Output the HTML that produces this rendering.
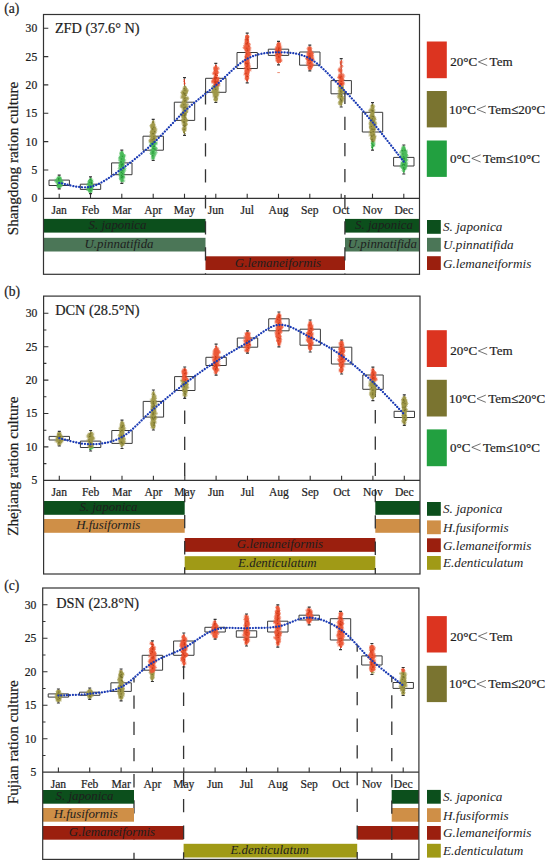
<!DOCTYPE html>
<html><head><meta charset="utf-8"><style>
html,body{margin:0;padding:0;background:#fff;}
svg{display:block;}
text{font-family:"Liberation Serif",serif;fill:#1e1e1e;stroke:#1e1e1e;stroke-width:0.22px;}
text[font-style="italic"]{stroke:none;}
</style></head><body>
<svg width="550" height="866" viewBox="0 0 550 866">
<defs>
<marker id="mr" markerUnits="userSpaceOnUse" markerWidth="6" markerHeight="6" refX="3" refY="3" overflow="visible"><path d="M1 3H5M3 1V5M1.6 1.6L4.4 4.4M1.6 4.4L4.4 1.6" stroke="#ec5a3a" stroke-width="0.7" opacity="0.8"/></marker>
<marker id="mo" markerUnits="userSpaceOnUse" markerWidth="6" markerHeight="6" refX="3" refY="3" overflow="visible"><path d="M1 3H5M3 1V5M1.6 1.6L4.4 4.4M1.6 4.4L4.4 1.6" stroke="#a09a4a" stroke-width="0.7" opacity="0.8"/></marker>
<marker id="mg" markerUnits="userSpaceOnUse" markerWidth="6" markerHeight="6" refX="3" refY="3" overflow="visible"><path d="M1 3H5M3 1V5M1.6 1.6L4.4 4.4M1.6 4.4L4.4 1.6" stroke="#4cbc5c" stroke-width="0.7" opacity="0.8"/></marker>
</defs>
<rect width="550" height="866" fill="#fff"/>
<text x="4.2" y="13.4" font-size="13.6">(a)</text>
<rect x="43.5" y="218.9" width="162" height="13.7" fill="#0c4f1c"/>
<text x="117.5" y="229.3" font-size="12.9" font-style="italic" text-anchor="middle" fill="#262626">S. japonica</text>
<rect x="345.0" y="218.9" width="74.5" height="13.7" fill="#0c4f1c"/>
<text x="384.0" y="229.3" font-size="12.9" font-style="italic" text-anchor="middle" fill="#262626">S. japonica</text>
<rect x="43.5" y="237.8" width="162" height="13.7" fill="#4b7657"/>
<text x="119.0" y="248.2" font-size="12.9" font-style="italic" text-anchor="middle" fill="#262626">U.pinnatifida</text>
<rect x="345.0" y="237.8" width="74.5" height="13.7" fill="#4b7657"/>
<text x="382.4" y="248.2" font-size="12.9" font-style="italic" text-anchor="middle" fill="#262626">U.pinnatifida</text>
<rect x="205.5" y="256.3" width="139.5" height="13.7" fill="#9b1f0e"/>
<text x="278.0" y="266.7" font-size="12.9" font-style="italic" text-anchor="middle" fill="#262626">G.lemaneiformis</text>
<line x1="205.5" y1="78.5" x2="205.5" y2="274.3" stroke="#333" stroke-width="1.3" stroke-dasharray="13.3 12.7" stroke-dashoffset="13.3"/>
<line x1="344.9" y1="90.0" x2="344.9" y2="274.3" stroke="#333" stroke-width="1.3" stroke-dasharray="13.3 12.8" stroke-dashoffset="25.4"/>
<path d="M49 180.1h20.4V185.5h-20.4ZM80.3 184.2h20.4V189.4h-20.4ZM111.6 162.9h20.4V174.7h-20.4ZM143 136.2h20.4V150.2h-20.4ZM174.3 102.2h20.4V120.4h-20.4ZM205.6 78.3h20.4V92.3h-20.4ZM237 52.5h20.4V68.5h-20.4ZM268.3 49.2h20.4V55.4h-20.4ZM299.6 52h20.4V65.2h-20.4ZM331 80.6h20.4V93.8h-20.4ZM362.3 112.3h20.4V132h-20.4ZM393.6 157.4h20.4V166h-20.4Z" fill="none" stroke="#3a3a3a" stroke-width="1"/>
<path d="M59.2 175.2V188.8M90.5 176.8V193.7M121.8 150.1V183.4M153.2 119.4V160.5M184.5 77.6V135.3M215.8 63.4V102.5M247.2 33.2V82.8M278.5 41.4V64.8M309.8 45.2V70.8M341.2 58.6V107M372.5 102.7V150.2M403.8 145V174" stroke="#333" stroke-width="0.7" fill="none"/>
<path d="M58.2 177.2h2.2M57.6 178.2h3.1M57.9 179.2h2.7M58 180.2h2.3M58 181.2h3.1M57.8 182.2h2.2M58.5 183.2h2.2M57.1 184.2h3M58.1 185.2h3.3M58 186.2h2.6M57.7 187.2h1.7M89.7 178.8h2.1M89.3 179.8h2.8M88.9 180.8h3.2M88.3 181.8h3.3M89.4 182.8h2.3M89.5 183.8h2.5M89 184.8h3.1M88.9 185.8h3.4M89.1 186.8h2.5M89.3 187.8h3.3M89.8 188.8h2.2M88.9 189.8h3.2M88.9 190.8h2.4M89.5 191.8h2.1M121 152.1h2.1M120.9 153.1h1.9M120.9 154.1h2.3M120.4 155.1h2.7M120.7 156.1h2.8M120.7 157.1h2.9M120.8 158.1h3M120.4 159.1h3.3M120.7 160.1h2.7M120.1 161.1h3.2M120.1 162.1h2.7M120.8 163.1h3.2M120.1 164.1h2.6M120.6 165.1h2.4M121.1 166.1h2.5M120.5 167.1h2.1M120.9 168.1h2.2M119.8 169.1h3.3M120.7 170.1h2.1M120.9 171.1h2.9M120.3 172.1h2M120.4 173.1h2.2M121 174.1h2.3M120.2 175.1h2.7M120.5 176.1h2.1M121.2 177.1h2M120.9 178.1h2.1M120.6 179.1h2.5M121.4 180.1h1.8M120.6 181.1h2.1M151.9 142.4h2.8M151.9 143.4h2.9M152.1 144.4h2.9M151.2 145.4h3.5M152.4 146.4h2.5M152.2 147.4h2.4M151.9 148.4h3M151.9 149.4h3.3M152.3 150.4h2.1M152 151.4h2.5M151.8 152.4h2.3M151.9 153.4h2.6M151.9 154.4h1.9M151.8 155.4h1.9M151.7 156.4h2M151.9 157.4h1.5M152.7 158.4h1.4M371.4 141.7h1.7M371.4 142.7h2.2M370.9 143.7h2.3M372.2 144.7h1.6M371.8 145.7h1.9M371.5 146.7h2.2M371.2 147.7h1.8M371.9 148.7h1.3M402.8 147h1.7M402.9 148h2.3M403 149h2.7M403.1 150h2.5M402.2 151h2.6M402.3 152h2.6M402.6 153h3.2M403 154h2.1M402.7 155h3M402.8 156h2.2M402.6 157h2.2M402.3 158h2.6M402.5 159h2.7M402.8 160h2.2M403 161h2.2M402.8 162h2.1M403.2 163h2M402.4 164h3.4M402.5 165h2.6M401.8 166h3M402.6 167h2.3M402.8 168h2M402.3 169h2.1M402.6 170h2.3M403.1 171h1.6M403.1 172h1.6" stroke="#2fae3f" stroke-width="1.15" fill="none"/>
<path d="M152.3 121.4h1.7M152 122.4h1.7M152.2 123.4h1.5M152 124.4h2.5M152.4 125.4h2M152.2 126.4h1.9M152.4 127.4h2.6M152.1 128.4h2.3M151.9 129.4h3.2M151.9 130.4h2.8M151.8 131.4h2.5M152.4 132.4h2.4M151.4 133.4h3.3M150.9 134.4h3.4M152.1 135.4h2.2M151.7 136.4h2.5M150.9 137.4h3.6M151.7 138.4h2.4M151.3 139.4h3.2M152.2 140.4h2.1M151.5 141.4h2.7M184.3 85.6h0.9M184.3 86.6h1.5M184.2 87.6h1.5M183.6 88.6h2.9M183.6 89.6h1.8M183.4 90.6h2.6M183.3 91.6h2.7M182.4 92.6h3.2M183.7 93.6h2.7M183 94.6h2M183.4 95.6h3.3M182.9 96.6h2M183.1 97.6h3.3M183.2 98.6h2.8M183.3 99.6h3.2M183 100.6h2M183.4 101.6h3.3M182.7 102.6h3.4M183 103.6h2.6M183.8 104.6h2.1M183.4 105.6h2.5M182.9 106.6h2.9M182.9 107.6h3.1M183.7 108.6h2.4M182.9 109.6h2.3M183.3 110.6h2.4M182.7 111.6h3.3M183.5 112.6h2.4M183.3 113.6h2.4M183.8 114.6h2.4M183 115.6h2.3M183.1 116.6h2.4M183.2 117.6h3M183 118.6h3.1M183.8 119.6h2M183.1 120.6h2.2M183.9 121.6h2.4M183.2 122.6h2.3M183.6 123.6h3M182.9 124.6h2.2M183.5 125.6h2.7M183.8 126.6h2.1M183.2 127.6h2M183.7 128.6h2.2M183.9 129.6h2M183.8 130.6h1.5M183.1 131.6h1.7M183.1 132.6h1.9M184.3 133.6h1.3M214.5 85.4h3.1M214.6 86.4h2.5M214.2 87.4h2.2M214.4 88.4h2.6M214.3 89.4h2M215.1 90.4h2.6M213.7 91.4h3.1M214.5 92.4h2.3M214.3 93.4h2.3M215 94.4h2.6M214.3 95.4h2.2M214.3 96.4h1.8M214.3 97.4h2.4M215.1 98.4h2.2M214.7 99.4h1.5M215.4 100.4h1.5M339 85.6h3.3M340 86.6h3.1M339.1 87.6h3M340.5 88.6h2.1M339.2 89.6h3.3M339.8 90.6h3.4M340.6 91.6h2.1M340 92.6h2M339.7 93.6h2.2M339.3 94.6h2.6M339.2 95.6h3.2M339.6 96.6h2.7M339.8 97.6h2.9M340.3 98.6h2.3M339.9 99.6h2.3M340.6 100.6h1.8M340 101.6h2.2M339.9 102.6h2.4M339.8 103.6h2M340.6 104.6h1.5M371.7 104.7h1.3M370.9 105.7h2.1M371.7 106.7h1.6M371.6 107.7h2.2M371.6 108.7h2.3M370.9 109.7h2.3M371.1 110.7h2.4M371.6 111.7h1.8M370.9 112.7h3.1M371.2 113.7h2.9M371.6 114.7h1.9M371 115.7h3.3M371.8 116.7h2.4M371.5 117.7h3M371 118.7h3.3M371.2 119.7h2.7M371.7 120.7h2.5M372 121.7h2.2M371.1 122.7h2.6M370.8 123.7h3M370.5 124.7h3M370.3 125.7h3.5M371.2 126.7h3.5M371.1 127.7h3.3M371.4 128.7h2.3M371.7 129.7h2.1M370.5 130.7h3.3M370.7 131.7h2.7M371.2 132.7h3M371.6 133.7h2.1M370.5 134.7h3.3M370.6 135.7h3.3M371 136.7h1.9M370.6 137.7h3M370.9 138.7h3M371.9 139.7h1.9M371 140.7h2.2" stroke="#8a8434" stroke-width="1.15" fill="none"/>
<path d="M183.6 79.6h1.1M183.7 80.6h1.3M183.5 81.6h1.1M184 82.6h1.1M183.8 83.6h1.6M183.9 84.6h0.7M215.1 65.4h1.6M215 66.4h1.6M215.2 67.4h1.8M214.5 68.4h1.7M214.9 69.4h1.9M214 70.4h2.5M214.7 71.4h3.1M214.2 72.4h2.4M214.9 73.4h3M215.1 74.4h2.2M214.8 75.4h3.2M214.2 76.4h2.3M214.4 77.4h2.3M214.6 78.4h3.4M214 79.4h2.8M214.2 80.4h2.6M214.6 81.4h3.1M214.1 82.4h3.3M214.4 83.4h2.8M214.5 84.4h2.6M246.5 35.2h1.3M245.6 36.2h2M245.8 37.2h1.6M246.2 38.2h1.6M246.7 39.2h2.1M246.4 40.2h2.4M246.5 41.2h2.4M245.6 42.2h2.6M246 43.2h2.3M246.7 44.2h2M245.5 45.2h2.5M246.2 46.2h2.6M246.1 47.2h2.3M245.8 48.2h2.1M246.1 49.2h2.2M245.3 50.2h3M245.7 51.2h3.1M246.2 52.2h3.2M246.5 53.2h2.6M245.8 54.2h2.8M245.5 55.2h2.3M245.1 56.2h3.1M245.6 57.2h2.1M245.3 58.2h2.9M246.2 59.2h2.5M245.4 60.2h2.8M246.2 61.2h3.1M245.6 62.2h3M246 63.2h2.9M245.8 64.2h3.3M246.3 65.2h2.4M245.7 66.2h2.1M245.4 67.2h2.7M245.5 68.2h2.8M245.5 69.2h3.3M246.2 70.2h3M246.3 71.2h2.5M245.8 72.2h2.5M246.4 73.2h1.9M246 74.2h2.9M246.2 75.2h2M246 76.2h2M245.4 77.2h2.3M246.2 78.2h1.9M246.7 79.2h1.5M246.3 80.2h1.5M246.6 81.2h1.3M277.2 43.4h2.2M277.6 44.4h1.7M276.8 45.4h2.4M277.4 46.4h2.3M276.9 47.4h2.9M276.5 48.4h3.4M276.4 49.4h3.1M276.8 50.4h3.5M277.7 51.4h2.3M276.3 52.4h3.5M277.3 53.4h3.5M277.5 54.4h2.6M277 55.4h3.2M277 56.4h2.6M277.2 57.4h3.2M276.3 58.4h3.3M277.4 59.4h2.6M276.9 60.4h2M277.5 61.4h2.7M277.2 62.4h2.2M308.8 47.2h1.7M308.6 48.2h2.1M308.8 49.2h2M308.3 50.2h2.4M308.6 51.2h2.6M308.8 52.2h2.7M308.2 53.2h2.6M307.7 54.2h3.4M308.5 55.2h2.5M308.1 56.2h2.7M307.9 57.2h3.4M308.5 58.2h2.9M308.6 59.2h2.3M308.8 60.2h2.2M308.7 61.2h3.2M307.7 62.2h3.4M308.7 63.2h2.6M309.2 64.2h2.4M309 65.2h2.5M308.8 66.2h1.8M309 67.2h2.4M309.3 68.2h2M308.8 69.2h1.9M341 60.6h0.8M340.5 61.6h0.8M340.1 62.6h1.4M340.2 63.6h1M340.2 64.6h1.2M341.3 65.6h1M340.6 66.6h1M340.6 67.6h0.6M341 68.6h0.7M340.4 69.6h0.8M341.1 70.6h0.7M340.3 71.6h1.3M340.4 72.6h0.9M340.7 73.6h1.1M340.4 74.6h0.7M340.3 75.6h1.2M339.3 76.6h3M339.6 77.6h2.2M339.5 78.6h3.4M340 79.6h2.1M339.3 80.6h3.1M338.9 81.6h3.4M339.8 82.6h2.9M340.6 83.6h2.4M339.3 84.6h2.9" stroke="#e23b1f" stroke-width="1.15" fill="none"/>
<path d="M60.4 184.5 59.4 181.4 62 182.3 59.1 185.5 59.8 178.9 58.1 181.7 59.8 178.7 61.2 182.2 59.5 181.2 60.4 180.5 59.2 184.4 60.9 180.6 59 181.3 56.4 180.2 59.1 178.9 61.2 185 58.6 178.2 58.8 177.6 57.7 179.1 60 186.7 58.3 186.6 59.4 184.8 60 182 56.4 181.5 60.9 182.3 60.1 181.9 60.5 185.2 59.5 180.4 59.4 184.2 59.9 182.9 59.8 178.2 58.5 185.2 59 183.3 59.9 183.9 60.5 184.1 59 184.7 57.9 180.8 57.8 183.1 59.1 186.6 91.1 183.7 91.4 187.8 91.4 188.6 90 185.2 89.5 188.6 89.1 183.3 90.2 183.8 91.4 181.3 89.3 189 90.5 185 90.8 190.9 88.5 187 90.5 185.1 90.8 179.9 90.3 180.5 90.3 183.5 90.4 189.8 90.3 189.9 90.5 186 90.4 188.4 88.2 184.4 89.9 191.1 89.3 181.4 92.4 186.5 90.5 186.1 90.1 189.1 90.9 182.4 90.9 190.8 91.5 181.1 89.6 186.8 89.1 187 89.4 189.4 91.1 183.3 90.6 185 90.9 186.1 90.8 184.1 89.5 190.5 89.9 189.1 89.1 188.4 90.1 182 90.4 180.5 90.4 187.1 88.3 188.9 90.4 188.2 88.1 189.2 90.6 184 122.6 168.1 121.4 155 123.4 180.8 122.2 159.8 122.4 160.3 124.3 170.4 121.8 180.1 122.3 159.9 121.6 175.3 120.1 174.8 122.2 174.2 122.9 158.6 121.9 170 121.4 152.7 123 164.6 123.1 157.5 121.2 167.9 122.2 170.8 122.4 164.5 121.7 174.6 121.9 161.4 122.4 154.5 122.5 159.5 123.1 161.4 123.1 176.8 120.7 178.3 120.9 166 120.2 166.2 121.5 157.5 121.5 179.2 124.3 160.2 121.4 153.5 120 171.4 121 157.5 121.7 164.5 121.9 163.5 119.9 158.8 120.2 163.5 121.6 169.2 121.8 166.6 121 176.8 121.2 178.2 121.7 154.8 122.2 171.8 123.4 177.2 121.6 162.5 122.3 162.8 124.2 155.9 120.4 170.6 122.3 157.4 123.1 156.5 122 172 122.7 177 123.1 172.7 120.6 165.4 121.5 157.5 121.8 174 122.8 159.9 124.5 168.4 120.6 165.6 123.2 173 119.7 168.5 122.4 177.2 120.2 160.6 120.8 175.1 121.7 153.9 123.4 155.4 120.8 173.4 120.8 173.2 123 167.2 120.3 157.2 122.8 167.5 122.1 166.1 121.9 153.1 122.8 168.6 121.6 177.6 121.5 165.6 153.3 156.2 153.1 143.6 154.4 149.9 153.8 142 153.4 156.7 155.6 148.3 152.9 146.2 152.4 143.3 151.7 151.6 153.8 142.2 155.7 148.7 152 153.1 153.6 149.5 154.2 153.1 151.4 144.8 153.1 150.6 154 144.3 151.5 153.5 152.7 158.1 151.6 144.6 156 143 154.7 154.7 152.2 145.9 155.4 143.9 150.9 142.8 152.1 149.5 153.3 153.8 153.2 158.1 153.1 145.9 154.5 147.2 155.7 152.4 152.2 141.8 152.4 154 372.6 145.4 373.7 144.8 373 145.2 372.7 141.8 373.6 142.8 403.7 159.1 403.8 150.5 402.5 163 402.2 163.2 404.7 160 403.6 164.6 404.3 151.6 403.5 157.3 405.4 153.2 403.3 158 404.3 164.2 404.4 167.6 404.1 157 401.8 165.4 403.6 163.7 403.1 165.3 404.8 158.9 405.5 156.2 403.3 157.1 405.7 151 403.1 153.2 405.3 156.3 405.3 160.8 404.2 162.8 404.2 167 404.4 153.3 405.3 168 405.2 157.8 403 157.3 403.6 156.4 406.6 155.4 401.3 156.3 405.4 165.4 404.8 158 403.5 147.7 405.7 155.7 405.9 152 404.9 168 405.5 166.4 403.7 162.8 403.5 170.6 402.4 158.5 404.3 156.6 406.2 163.3 404 152.2 403.3 149.2 401 152.3 405.4 164.9 402.2 154.4 406.6 159.9 401.5 166.9 405.5 154.6 402.9 157.5 403.9 163.7 405.5 163.1 404.1 167.2 403.5 147.1 403.9 153.9 403.3 167.6 402.4 150.8 404.5 154.1 403.3 149.8 403.3 167.7 402.7 150.1 403.4 148.6 405.5 165.5 403.7 162.9 405 153.6 405.6 159.8" fill="none" stroke="none" marker-start="url(#mg)" marker-mid="url(#mg)" marker-end="url(#mg)"/>
<path d="M153.5 124.6 153.5 136.3 151.9 140 152.2 127.1 152.6 135.3 153.2 126.2 153.4 137 154.7 128.1 153.8 133.1 152.9 128.9 154.5 137.7 153.1 130.8 153.4 138.3 153.6 135.6 153.3 127 153.6 131.8 152.5 124.2 151.6 125.7 153.7 125.2 153.1 132.3 153.7 128.6 152 133 153.9 136.4 151.1 139.7 152.4 140.7 153.9 140.9 152.9 132.7 155.6 129.9 153.4 122.2 153.7 134 154.6 132.4 151.8 132.9 151.6 132.5 152.2 127.3 155 131.8 152.1 131 152.6 138.2 155.7 137.8 150.4 140.7 154.2 130.4 154.3 139.7 152.7 129.3 152.3 140.1 153.8 127.6 153.1 128.1 151.6 137.1 152.8 132.2 153.3 128.5 151.4 126 151.6 134.5 151.2 136.3 151.7 131.6 153.2 125.4 153.8 136.9 152.6 133.7 154.7 128.2 150.4 141.1 151.8 141.1 153.6 140.1 184.3 116.8 184.1 94.6 187 90.4 182.9 116.9 184.2 125.2 183.5 114.4 184.1 119.6 184.9 124.5 183.2 120.8 182.9 96.9 186.7 108 186.2 111.1 182.3 105.9 184.4 111.1 185.1 111.6 183.9 103.5 184.6 100.9 184.7 119.1 187 104.3 185.7 112.5 181.7 105.7 184.7 99.8 184.4 94.9 184.2 121.2 184 92.5 184.8 114.2 182.5 120.4 183.3 113 181.7 106.3 183.7 129 184.2 104.1 184.6 104.1 185.8 93.8 183.6 110.4 184.4 99.4 184.1 104.4 183.1 104.8 183.4 94.3 183.6 128.8 185.3 121 183.4 117.1 183.5 91.9 184.9 111.4 182.1 92.7 184.8 88 184 93.7 181.7 114.8 183.5 94.1 186.3 106.2 184 114.3 183.2 123.1 183.7 97.2 184.5 104.9 186 92.5 184.4 92.3 185.8 107.3 184.7 119.2 184.4 114.2 183.9 129.3 184.8 119.9 185.6 88.6 184 120.9 184.1 91.2 185 118.4 187.1 98.2 184.1 119.1 186.2 111.3 185.4 108.4 183.3 102.1 183.1 117 184.5 95.6 185.8 124.5 182.6 103.6 184.7 87.7 184.1 94.9 187.3 98.4 186.2 120.5 181.8 114.2 185.1 115.1 184.6 112 184.8 128.9 184.8 90 184.6 101 185.8 90.2 185 112.2 184.3 101.4 184.1 101 182.9 107.8 185.9 106.5 184.1 129.8 185.2 91.6 184.4 124.8 184 96 185.1 100.6 186 91.6 184.2 91.4 184.6 114.8 184.8 106.9 184.3 89.8 185.5 124.7 182.9 92.2 185.8 123.2 185.9 91.4 185.5 112.5 184.4 114.8 186.4 100.1 184.4 93.6 183.8 121.1 186.3 120.1 184.9 130 186.5 110.8 185.1 127.1 184.7 99 184.1 107.1 181.9 97.1 183.2 106.1 213.7 90.2 216.2 86.3 213.5 86.6 216.7 87.4 215.7 95.2 216.5 85.6 217.2 88.3 215.3 99.2 215.7 98.2 215.8 94 215.4 94.4 215 92.9 216.8 86.8 215.1 95 214.4 94.1 214 89.6 216.1 100.1 213.4 92.1 215.4 99.4 215.7 90.9 215.5 99.1 216.9 88.8 217.5 94.8 218.5 85.2 215.7 91.9 216.3 98.6 216.5 94.8 216.2 92.9 216.7 96.1 216 99.8 214.9 91 215.9 95.4 215.5 91.2 213 91.7 214.4 87 214.1 96 216.3 94 218 92.6 217.3 90.7 216.3 88.9 213.8 89.7 213.9 87 214.7 90.3 339.7 95.2 340.3 86.8 340.5 90.7 341.7 100.4 341.3 90.5 342.5 99.1 339.6 103 340.6 104.2 341.9 87.5 341.3 86.2 341.2 89.5 341.8 89.1 341.9 89.4 340.6 93.2 339.4 91 342.2 98.1 340.6 90.7 341.5 88.3 341.4 96.5 341.6 88.9 341.1 88.4 338.7 96.3 339.5 87.3 342.6 97.5 339.9 102.8 339.4 97.9 340.8 96 339.6 93 341.4 101.9 342.1 100.2 342.1 88 341.3 87 339.9 87.8 341.8 88.5 342.3 91.7 343.2 91.4 340.9 100.8 342 91.8 341.3 87.4 340.3 95.8 340.5 101.3 341.9 90 342 85.2 374 124.1 374.7 122.9 373.7 117.6 372.7 111.2 373.4 106.3 370.2 123.2 372.7 112.9 373.5 118.1 373 139.5 374 135 374.8 125.4 374.4 128.6 372.1 127.2 373.2 132.5 373.2 120.3 373.5 140.1 371 127.5 372.7 140.9 373.5 125.6 372.3 129 373.9 137.9 373.4 119.4 373.6 140.1 372.6 112.9 371.9 115.5 375.3 123.4 372.8 107.1 370.9 118.6 373.3 135.9 372.9 132.7 373.3 123.1 370.9 116.9 371.4 120.8 371.8 138.5 370.5 132.3 371.4 122.5 372.2 110.4 372.2 130.1 372 114.6 370.9 110.2 371.7 121.3 373.6 120.2 373.3 129.4 372.1 114.1 373.6 129.9 373.2 116.5 372.1 131.9 373.1 122 373.4 132.8 371.6 130.7 371.8 138.3 372.3 120.2 373.3 123.9 371.9 122.4 371.8 133.1 370.9 126.3 373.6 118.5 374.4 129.8 372.1 123.9 372.7 134.9 372.7 137.5 372.3 113.1 371.8 132.1 372.6 133.5 373 136.9 371 124.4 370.2 110.6 372.1 119.3 371.1 128 373.6 110.1 373.6 118.4 373.3 126.4 371.7 109.9 374.9 119.3 371.5 121.2 372.3 123.2 372.4 105.8 370.8 115.9 372.7 114.9 372.3 133.3 372.6 132.9 373 127.3 374.2 122.9 371.5 129.3 370.7 127.2 371.4 118.4 371 124.9 371.9 120.5 370.4 135.1 373.4 128.9 374.8 136.8 371.7 116.5 373.7 118.1 373.1 129.5 371.8 107.2 371.6 118.6 373.9 136.7 371.7 127 374.1 138.2" fill="none" stroke="none" marker-start="url(#mo)" marker-mid="url(#mo)" marker-end="url(#mo)"/>
<path d="M213.8 79.3 215.1 67.8 215.2 68.7 215.6 68.2 217.7 78.8 215.6 73.8 213.9 80 214.6 80.7 216 83.6 215.7 81.3 215.2 77.3 217 79.9 213.8 73.3 217.8 68.3 216.5 72.2 215.3 71.9 217.8 83.8 214.8 83.8 217.5 84.8 218.4 83.7 215.9 83.8 216 84.5 214.9 73 216.2 71.6 213 82 215.3 79.7 215.1 73.4 217.4 72.5 217.6 80.8 215.2 69.3 215.7 68 217.8 78.2 216.3 69.5 215.6 76.7 216 79.2 215.2 80.2 215.9 82.1 216.3 69.6 213 81.4 215.7 84.1 216.1 79.2 215.4 84.4 217.6 81.3 216.3 79.4 217 79.4 247.5 58.2 246.2 59.9 249.9 69.8 247.1 37.1 247.2 78.5 247.2 37.8 248.6 67.8 245.9 40.9 247.6 62.9 246.3 49.5 246.9 49.7 246.5 61.9 249.1 54 248.6 55.5 246.9 62.6 248.2 54.7 247.2 70.6 247.5 46.3 246.4 62.1 246.8 61 246 70.9 246.6 76.7 247.3 73.1 247.2 54.3 247.4 36.7 247.7 72.9 248.3 58.6 249.6 48 246.8 67.4 249 44.6 247.2 41.9 246.1 56.8 246.2 59.2 247 76.5 246 73.6 247.4 46.2 247.6 50.5 247.7 62.3 246.1 48.2 247 52.6 246.9 43.8 247.1 50.2 247.2 58.2 246.7 41.3 246.2 63.4 247.9 67.5 248.3 68.8 247 41.1 245.3 74.2 247.9 60.6 249.4 54.7 247.7 62.7 247.9 70.2 246.3 64.8 246.2 71.4 247.1 62.8 246.4 64.4 246.5 56.3 246.9 37.4 247.9 53.3 247.3 72.1 246.5 78.7 245.3 68.3 248.8 65.1 246.9 74.5 247 63.8 245.8 43.7 246.7 78.9 247.3 36.7 246.8 57.4 248 49.2 247.1 60.4 246.3 50.2 247.5 77.1 247.7 45.1 247.6 72.4 247.3 37.1 247 73.2 247 77.7 247.5 53.8 247.7 46.7 246.6 38.9 247.8 48.2 248.7 66.5 247.3 41.2 249.6 53.9 248 63.5 248.4 50.2 247.7 43.5 247.9 43.5 245.1 45.5 247.5 70.4 247.4 46 247 48.2 247.6 65.7 246.8 70.5 247.8 48.4 246.9 54.7 245.1 61.1 246.1 65.7 247.2 61.5 247.5 75.5 247.1 58.1 248.6 47.2 244.4 47.7 249.4 50.1 245.5 47.4 247.9 71.7 278.2 59.2 277.1 51.8 279.6 55.6 279.2 56.7 280.4 54.6 279.1 54.6 277.5 51.6 278.9 56.1 277 58.1 277.8 52 278.9 48.3 278.8 50.7 280.5 60.8 278 57.2 276.6 49 276.6 48 279.6 48.9 278.7 48.8 278.3 54.4 279.1 45.7 278.9 60.4 278.6 47.3 280.3 47.1 277.6 46.9 279.3 61.3 277 50 279 43.9 278.6 48.3 277.2 60.4 279.9 53.1 278.7 47.8 278.7 59.8 279.1 46.7 278.2 61.6 278.8 54.6 280.3 60.2 279.5 44.1 279.1 61.2 280 50.7 276.3 51.1 278 53.2 277.3 50.8 278.3 44.4 277.3 54.9 277.5 54 276.4 52.1 279.5 58.9 279.1 57.7 276.9 56.8 279.6 54.5 278.4 50.3 276.7 54.9 279.9 49.1 278.7 48.7 279.3 50.5 278.3 44.3 279.2 58.3 277 54.9 310.8 66.6 308 64.8 307.8 56.6 310.6 64.8 310.8 55.2 309.8 67.9 310.4 48.6 309.8 50.8 308.9 53.1 312.5 58.9 309.7 68.1 310.4 66.8 308.6 48.3 308.6 60 311.3 64.8 309.6 50.7 309.7 54.8 312.6 59.7 309.7 61.1 311.3 56.2 309.4 63.8 311.9 58.8 308.3 59.5 307.9 53.2 308.4 59.2 309.1 62.3 310.3 67.5 307.9 56.6 310.2 68.1 312.3 56.2 310.7 62.9 310.7 53.9 311.9 55.2 311.5 64.9 310 51.9 310.5 63.3 309.5 55.9 311.1 61.1 309.8 49.6 312.1 59.2 308.6 57.6 309.6 63.1 308.6 49 310 48.1 307.6 58.3 309.5 54 312.5 64.7 307 58.6 311.2 52 308.9 58.1 312.1 53.4 308.8 58.6 310.3 68 311.6 53.5 309.4 67.5 311.2 66.4 311.4 61.1 309.9 54.3 308.4 61 308.1 58 307.6 62.8 309.1 62.6 339.6 69.2 339.2 77.5 341.1 83.9 339.6 70.2 340.3 82.8 339.8 81 340.1 74.8 340 84.5 341.6 66.3 342.3 79.3 343.4 76.1 341.3 62.1 341.6 83.7 342.2 79.2 341.6 77.8 342.1 83.6 340.7 82.6 340.1 84.8 340.8 78 342.6 79.9 341.4 82.1 342.5 82.7 341.1 79.3 340.4 84.2 339.3 82.7 343.2 83.8 341.2 83.6 342.4 74.8 340.4 83.5 341 70.9 341.3 77.5 339.4 77.3 339.9 75.6 342.1 81 341.3 83.9 340.2 71" fill="none" stroke="none" marker-start="url(#mr)" marker-mid="url(#mr)" marker-end="url(#mr)"/>
<path d="M58.1 179.3h1.2M58.9 183.5h1.2M58.4 178.7h1.2M58.3 180.2h1.2M57.2 184.8h1.2M59.1 183.5h1.2M58.1 178.5h1.2M58.9 183.1h1.2M89.6 187.7h1.2M89.2 189h1.2M90.9 182.2h1.2M89.3 186h1.2M90.5 187.4h1.2M90.2 190.2h1.2M89.7 179.5h1.2M91 183.4h1.2M90.4 180.8h1.2M89.3 182.4h1.2M121.7 170.8h1.2M122.3 165h1.2M120.9 165h1.2M120.5 161.5h1.2M121.9 173.8h1.2M121 175.4h1.2M121 159h1.2M121.2 177.7h1.2M120.8 172.5h1.2M121.1 166.3h1.2M120.5 162.6h1.2M121.6 177.8h1.2M121.5 164.5h1.2M122.6 167.5h1.2M120.9 177h1.2M122.1 163.9h1.2M120.7 164.4h1.2M121.8 156.2h1.2M122 176.5h1.2M154.4 149.3h1.2M152.4 151.7h1.2M153.7 142.7h1.2M152.6 141.9h1.2M152.3 153.1h1.2M153.9 146.1h1.2M153.2 146.4h1.2M152.5 148.3h1.2M152 155.7h1.2M151.6 144h1.2M153.5 148.8h1.2M371.7 147.4h1.2M371.8 144.3h1.2M372.5 145.5h1.2M372.1 141.6h1.2M403.2 167.6h1.2M404.1 169.5h1.2M403.7 164.6h1.2M402.8 158.3h1.2M403 156.8h1.2M401.8 165.1h1.2M403.7 160.4h1.2M402.7 164.5h1.2M403.8 158.1h1.2M401.5 150.5h1.2M403.4 158.9h1.2M404.4 150.4h1.2M402 150.8h1.2M404.7 162.8h1.2M402.2 154h1.2M404 165.2h1.2M403.2 168.6h1.2" stroke="#1f8c30" stroke-width="1.1" fill="none" opacity="0.8"/>
<path d="M152.6 133.6h1.2M153.5 138.4h1.2M151.9 128.7h1.2M153.3 136.7h1.2M154 131.8h1.2M153.2 138.5h1.2M152.2 129.3h1.2M152.3 133.6h1.2M151.9 129.2h1.2M153.3 139.8h1.2M153.1 127.3h1.2M152.5 122.3h1.2M151.7 139.8h1.2M183.4 122.4h1.2M184.2 115.1h1.2M183.1 108.1h1.2M184.2 101.1h1.2M184.3 93.5h1.2M183.7 129.4h1.2M183.9 126.4h1.2M182.6 125.8h1.2M184.3 107.5h1.2M181.9 115.1h1.2M183.4 121.6h1.2M183.8 119.3h1.2M183 92.9h1.2M183.5 115.5h1.2M183.6 110.2h1.2M183.2 104.8h1.2M184.3 117.3h1.2M183.7 113.8h1.2M184.2 124h1.2M183.7 88.5h1.2M184.5 125.5h1.2M183.8 115.9h1.2M183.8 107.7h1.2M184.7 107.1h1.2M184.3 90.1h1.2M184.5 100.4h1.2M184.7 95.2h1.2M183.6 122.4h1.2M184.8 113.9h1.2M184.1 98.3h1.2M183.7 94.3h1.2M215.3 85.9h1.2M214.5 87.7h1.2M215.1 89.4h1.2M215.2 97h1.2M340.4 88.7h1.2M340.6 101.7h1.2M341.1 88.2h1.2M340.8 100.4h1.2M339.7 98.8h1.2M341.5 87.8h1.2M340 99.7h1.2M339.5 93.9h1.2M340.7 96.4h1.2M341.2 94.6h1.2M340.5 92.1h1.2M340.1 91.1h1.2M372.1 111.3h1.2M372.5 110.9h1.2M373.4 129.4h1.2M371.5 136h1.2M371.6 116.2h1.2M373.3 121h1.2M372 141.1h1.2M371.7 129.2h1.2M370.3 132.5h1.2M370.7 126.5h1.2M371.9 139.2h1.2M370.9 136.1h1.2M373.3 134.9h1.2M372.8 116.6h1.2M371.2 129h1.2M371.4 110.3h1.2M372.2 122h1.2M371.5 120.2h1.2M371.8 105.1h1.2M371.8 118.9h1.2M370.9 139.8h1.2M372.2 141h1.2M371.4 110.8h1.2M372.6 131.6h1.2" stroke="#6c6826" stroke-width="1.1" fill="none" opacity="0.8"/>
<path d="M214.2 82.1h1.2M214.8 77.4h1.2M214.9 83.9h1.2M214.3 77.7h1.2M216.5 81.6h1.2M214.6 81.4h1.2M214.6 82.3h1.2M214 78.8h1.2M214.8 79.9h1.2M214.4 81.6h1.2M215.2 82.4h1.2M214.8 75h1.2M215.4 78.4h1.2M216.4 81.8h1.2M214.9 74h1.2M214.2 84.8h1.2M215.8 77.6h1.2M215 74h1.2M214.6 79.9h1.2M245.2 39.2h1.2M246.5 76.4h1.2M247.6 69.8h1.2M246.6 63h1.2M246.4 66.2h1.2M245.4 73.4h1.2M246.8 76.4h1.2M246.3 66.6h1.2M246.9 40.1h1.2M246 63.6h1.2M246.5 80h1.2M246.7 44h1.2M245.2 57.2h1.2M245.7 43.8h1.2M244.9 63.1h1.2M247 65h1.2M245.8 63.5h1.2M246.3 48.2h1.2M247 68.9h1.2M246.9 42.7h1.2M246.9 42.3h1.2M246.8 40.2h1.2M246.1 53.9h1.2M245.4 43.9h1.2M248.2 46h1.2M247.4 37.3h1.2M246.9 50.1h1.2M247.4 63.7h1.2M246.7 38.9h1.2M276.6 52.2h1.2M277.9 49.8h1.2M278.2 48.9h1.2M278.5 48.8h1.2M276.7 51.1h1.2M278.4 57.3h1.2M278.3 47.8h1.2M279 53.4h1.2M276.6 54.4h1.2M278.1 56.4h1.2M278.3 50.5h1.2M278.4 57h1.2M278.8 53.8h1.2M277.6 50.9h1.2M309.8 62.8h1.2M309.6 57.2h1.2M308.7 63.3h1.2M309 57.4h1.2M309.7 60.1h1.2M308.2 60.4h1.2M309 57h1.2M309.6 66.2h1.2M308.6 58.7h1.2M310 58.2h1.2M308 56.9h1.2M309.3 55.9h1.2M309.2 53.9h1.2M308.8 59.8h1.2M308.7 56h1.2M340.6 81.4h1.2M340.2 78h1.2M340.7 84.4h1.2M339.9 84.5h1.2M340.6 76.3h1.2M339.5 77.4h1.2M340.8 84.1h1.2M340 83.6h1.2M341.1 83.7h1.2" stroke="#c8300f" stroke-width="1.1" fill="none" opacity="0.8"/>
<path d="M57.7 175.2h3M57.7 188.8h3M89 176.8h3M89 193.7h3M120.3 150.1h3M120.3 183.4h3M151.7 119.4h3M151.7 160.5h3M183 77.6h3M183 135.3h3M214.3 63.4h3M214.3 102.5h3M245.7 33.2h3M245.7 82.8h3M277 41.4h3M277 64.8h3M308.3 45.2h3M308.3 70.8h3M339.7 58.6h3M339.7 107h3M371 102.7h3M371 150.2h3M402.3 145h3M402.3 174h3" stroke="#333" stroke-width="1.2" fill="none"/>
<path d="M277.3 72.6h2.6" stroke="#ec8a70" stroke-width="1"/>
<path d="M59.2,182.8C64.4,183.5 80.1,189.1 90.5,186.8C100.9,184.5 111.4,176.1 121.8,168.8C132.3,161.5 142.7,152.8 153.2,143.2C163.6,133.6 174.1,121 184.5,111.3C194.9,101.7 205.4,94 215.8,85.3C226.3,76.5 236.7,64.3 247.2,58.8C257.6,53.3 268.1,52.3 278.5,52.3C288.9,52.3 299.4,52.8 309.8,58.6C320.3,64.4 330.7,76.6 341.2,87.2C351.6,97.8 362.1,109.7 372.5,122.2C382.9,134.6 398.6,155.1 403.8,161.7" fill="none" stroke="#1a3ab4" stroke-width="2.25" stroke-dasharray="0.01 2.9" stroke-linecap="round"/>
<rect x="43.5" y="14.5" width="376" height="259.8" fill="none" stroke="#333333" stroke-width="1.2"/>
<line x1="43.5" y1="198.3" x2="419.5" y2="198.3" stroke="#333333" stroke-width="1.2"/>
<text x="37.2" y="202.2" font-size="11.6" text-anchor="end">0</text>
<text x="37.2" y="173.9" font-size="11.6" text-anchor="end">5</text>
<text x="37.2" y="145.5" font-size="11.6" text-anchor="end">10</text>
<text x="37.2" y="117.2" font-size="11.6" text-anchor="end">15</text>
<text x="37.2" y="88.8" font-size="11.6" text-anchor="end">20</text>
<text x="37.2" y="60.5" font-size="11.6" text-anchor="end">25</text>
<text x="37.2" y="32.1" font-size="11.6" text-anchor="end">30</text>
<text x="59.2" y="213.6" font-size="11.6" text-anchor="middle">Jan</text>
<text x="90.5" y="213.6" font-size="11.6" text-anchor="middle">Feb</text>
<text x="121.8" y="213.6" font-size="11.6" text-anchor="middle">Mar</text>
<text x="153.2" y="213.6" font-size="11.6" text-anchor="middle">Apr</text>
<text x="184.5" y="213.6" font-size="11.6" text-anchor="middle">May</text>
<text x="215.8" y="213.6" font-size="11.6" text-anchor="middle">Jun</text>
<text x="247.2" y="213.6" font-size="11.6" text-anchor="middle">Jul</text>
<text x="278.5" y="213.6" font-size="11.6" text-anchor="middle">Aug</text>
<text x="309.8" y="213.6" font-size="11.6" text-anchor="middle">Sep</text>
<text x="341.2" y="213.6" font-size="11.6" text-anchor="middle">Oct</text>
<text x="372.5" y="213.6" font-size="11.6" text-anchor="middle">Nov</text>
<text x="403.8" y="213.6" font-size="11.6" text-anchor="middle">Dec</text>
<path d="M43.5 170h4.8M43.5 141.6h4.8M43.5 113.3h4.8M43.5 84.9h4.8M43.5 56.6h4.8M43.5 28.2h4.8M59.2 193.7V198.3M90.5 193.7V198.3M121.8 193.7V198.3M153.2 193.7V198.3M184.5 193.7V198.3M215.8 193.7V198.3M247.2 193.7V198.3M278.5 193.7V198.3M309.8 193.7V198.3M341.2 193.7V198.3M372.5 193.7V198.3M403.8 193.7V198.3" stroke="#333333" stroke-width="1.1" fill="none"/>
<text x="54.9" y="32.5" font-size="14.3">ZFD (37.6° N)</text>
<text transform="translate(17.8,158.4) rotate(-90)" font-size="15.2" text-anchor="middle">Shangdong ration culture</text>
<rect x="426.8" y="41.5" width="20" height="36.7" fill="#dc3420"/>
<text x="450.3" y="66.2" font-size="13">20°C</text>
<path d="M487.2 58.3L478.4 61.9L487.2 65.5" stroke="#333" stroke-width="0.7" fill="none"/>
<text x="489.6" y="66.2" font-size="13">Tem</text>
<rect x="426.8" y="91.0" width="20" height="36.4" fill="#7a7430"/>
<text x="449.0" y="113.7" font-size="13">10°C</text>
<path d="M485.8 105.8L477 109.4L485.8 113" stroke="#333" stroke-width="0.7" fill="none"/>
<text x="488.2" y="113.7" font-size="13">Tem≤20°C</text>
<rect x="426.8" y="140.5" width="20" height="36.4" fill="#22a040"/>
<text x="450.0" y="162.7" font-size="13">0°C</text>
<path d="M480.6 154.8L471.8 158.4L480.6 162" stroke="#333" stroke-width="0.7" fill="none"/>
<text x="483" y="162.7" font-size="13">Tem≤10°C</text>
<rect x="427" y="220.0" width="13.8" height="13.8" fill="#0c4f1c"/>
<text x="443" y="231.3" font-size="13.2" font-style="italic" fill="#262626">S. japonica</text>
<rect x="427" y="237.8" width="13.8" height="13.8" fill="#4b7657"/>
<text x="443" y="249.1" font-size="13.2" font-style="italic" fill="#262626">U.pinnatifida</text>
<rect x="427" y="256.2" width="13.8" height="13.8" fill="#9b1f0e"/>
<text x="443" y="267.5" font-size="13.2" font-style="italic" fill="#262626">G.lemaneiformis</text>
<text x="4.2" y="295.7" font-size="13.6">(b)</text>
<rect x="43.6" y="501.0" width="141.1" height="13.8" fill="#0c4f1c"/>
<text x="108.4" y="511.4" font-size="12.9" font-style="italic" text-anchor="middle" fill="#262626">S. japonica</text>
<rect x="375.3" y="501.0" width="44.7" height="13.8" fill="#0c4f1c"/>
<rect x="43.6" y="519.0" width="141.1" height="13.8" fill="#cf8f47"/>
<text x="108.2" y="529.4" font-size="12.9" font-style="italic" text-anchor="middle" fill="#262626">H.fusiformis</text>
<rect x="375.3" y="519.0" width="44.7" height="13.8" fill="#cf8f47"/>
<rect x="184.7" y="538.0" width="190.6" height="13.8" fill="#9b1f0e"/>
<text x="280.0" y="548.4" font-size="12.9" font-style="italic" text-anchor="middle" fill="#262626">G.lemaneiformis</text>
<rect x="184.7" y="556.2" width="190.6" height="13.8" fill="#a09a16"/>
<text x="277.3" y="566.6" font-size="12.9" font-style="italic" text-anchor="middle" fill="#262626">E.denticulatum</text>
<line x1="184.7" y1="384.5" x2="184.7" y2="574.0" stroke="#333" stroke-width="1.3" stroke-dasharray="13.3 12.8" stroke-dashoffset="0"/>
<line x1="375.3" y1="384.0" x2="375.3" y2="574.0" stroke="#333" stroke-width="1.3" stroke-dasharray="13.3 13" stroke-dashoffset="0.2"/>
<path d="M49.1 436.4h20.4V440h-20.4ZM80.4 441.1h20.4V447.5h-20.4ZM111.8 430.5h20.4V443.4h-20.4ZM143.2 401.4h20.4V417.1h-20.4ZM174.6 376.6h20.4V390.5h-20.4ZM205.9 357.3h20.4V365.5h-20.4ZM237.3 338h20.4V347.2h-20.4ZM268.7 318.8h20.4V330.8h-20.4ZM300 329.2h20.4V345.2h-20.4ZM331.4 347.2h20.4V364h-20.4ZM362.8 375h20.4V389.3h-20.4ZM394.1 411.3h20.4V417.5h-20.4Z" fill="none" stroke="#3a3a3a" stroke-width="1"/>
<path d="M59.3 431.3V446M90.6 430.5V451M122 420.1V448.5M153.4 390V430M184.8 367V398.3M216.1 344.2V375.2M247.5 330.8V353.2M278.9 312V346.8M310.2 320V352M341.6 340V374M372.9 367.2V400.6M404.3 394.8V425.4" stroke="#333" stroke-width="0.7" fill="none"/>
<path d="M89.5 447.5h2M89.7 448.5h1.8M89.1 449.5h2.1" stroke="#2fae3f" stroke-width="1.15" fill="none"/>
<path d="M58.8 433.3h1.9M57.7 434.3h3.1M57.5 435.3h2.6M58.4 436.3h2.8M58.2 437.3h2.5M57.5 438.3h3.4M58.2 439.3h2.7M57.9 440.3h2.3M57.6 441.3h2.3M58.6 442.3h2.2M57.8 443.3h2.7M58.5 444.3h1.7M90 432.5h1.7M88.7 433.5h2.7M89.1 434.5h2.4M89.2 435.5h2.4M88.8 436.5h3M88.6 437.5h3.5M89.6 438.5h2.5M89.1 439.5h2.2M89.6 440.5h2.6M89.1 441.5h3.4M89.5 442.5h2.5M88.7 443.5h3.5M89 444.5h2.1M89.9 445.5h2.5M89.3 446.5h3.1M120.8 422.1h2.2M121.7 423.1h1.6M121.3 424.1h2.1M120.9 425.1h2.8M120.4 426.1h2.7M120.6 427.1h2.6M120.2 428.1h3.1M121 429.1h2.6M121.3 430.1h2.2M120.8 431.1h2.9M120.1 432.1h3.1M120.4 433.1h3.5M120.2 434.1h2.6M120.3 435.1h2.4M120.3 436.1h2.5M120.4 437.1h2.1M120.6 438.1h2.2M120.7 439.1h2.1M120.6 440.1h2.1M120.5 441.1h2.7M120.3 442.1h2.8M120.5 443.1h2.6M120.6 444.1h2.2M121.8 445.1h1.7M120.6 446.1h1.7M152.9 392h1.4M152.3 393h1.8M152.9 394h1.7M153.1 395h1.6M152.4 396h1.8M151.8 397h2.1M152 398h1.9M152.2 399h1.9M152.3 400h2.3M151.8 401h3.2M151.7 402h3.2M151.4 403h3.2M151.8 404h2.6M152.1 405h2.6M151.9 406h3.6M151.8 407h2.7M151.9 408h3.2M152.1 409h3.6M152.8 410h2.2M152.1 411h2.2M151.8 412h2.5M151.7 413h2.7M151.7 414h2.8M152.5 415h2.8M151.9 416h2.1M151.9 417h2.2M152.1 418h3.4M152.7 419h2.6M151.9 420h1.9M152.7 421h2.1M151.8 422h2.8M151.8 423h2.8M152.5 424h2.4M152.3 425h2.4M152.1 426h1.8M153.1 427h1.8M152.8 428h2M183.2 381h2.7M183.9 382h2.6M183.5 383h2.1M183 384h2.9M183.5 385h3.1M183.7 386h2.6M183.4 387h2.5M182.7 388h3.2M183.4 389h2.7M182.9 390h3M183.4 391h2.7M183.7 392h2.9M183.4 393h2.7M184.2 394h1.9M183.6 395h1.9M184.4 396h1.7M371.9 380.2h2.5M371.7 381.2h2.1M371 382.2h3.6M371.8 383.2h2.4M371.5 384.2h2.1M371.7 385.2h2.9M371.5 386.2h2.6M371.3 387.2h2.3M371.9 388.2h2.7M372.1 389.2h2.3M371.9 390.2h3.2M372.5 391.2h2.1M372 392.2h1.9M371.5 393.2h2.8M372.1 394.2h2.1M371.7 395.2h1.8M371.5 396.2h2.5M372.4 397.2h2M372 398.2h1.8M402.8 396.8h1.9M403.6 397.8h2.1M404 398.8h1.7M403.7 399.8h2.1M403.3 400.8h2.9M402.7 401.8h2.2M403.5 402.8h2.7M403.1 403.8h2.4M402.6 404.8h2.6M402.8 405.8h3.3M403.2 406.8h2.7M403.2 407.8h2.3M402.4 408.8h3.2M403.6 409.8h2.6M403.3 410.8h2.8M403 411.8h3.3M402.6 412.8h2.5M402.4 413.8h3.3M402.6 414.8h2.8M402 415.8h3.4M403.6 416.8h2.7M402.7 417.8h2.7M402.8 418.8h2.9M403.5 419.8h2.4M403.1 420.8h1.9M403.6 421.8h1.6M403.4 422.8h1.7M403.8 423.8h1.9" stroke="#8a8434" stroke-width="1.15" fill="none"/>
<path d="M183.9 369h1.8M184 370h2.3M184.4 371h1.7M183.9 372h2.3M183.6 373h2M184.1 374h2.4M183.4 375h3.2M183.5 376h2.4M184 377h2.3M183.6 378h3M182.8 379h2.7M183.2 380h2.6M214.9 346.2h1.9M215.8 347.2h1.7M215.2 348.2h1.6M214.7 349.2h2.8M214.8 350.2h2.7M214.4 351.2h2.6M214.3 352.2h3M215.2 353.2h3M215.4 354.2h2.1M214.6 355.2h2.1M215 356.2h3M214.2 357.2h3.1M214.1 358.2h3.4M215.3 359.2h2.8M214.5 360.2h2.7M214.5 361.2h2.5M214.2 362.2h3.5M214.5 363.2h2.1M214.6 364.2h3.2M214.4 365.2h2.7M215.1 366.2h3M214.2 367.2h3.3M214.6 368.2h2.8M214.6 369.2h2.4M215.6 370.2h1.8M214.6 371.2h1.9M215 372.2h1.7M215.5 373.2h1.4M246 332.8h1.8M245.8 333.8h2.3M246.3 334.8h2.7M246.6 335.8h2.3M246.3 336.8h2.3M245.6 337.8h3M246.2 338.8h2.7M246.4 339.8h3.2M246.5 340.8h2.5M246.3 341.8h2.2M245.9 342.8h2.8M245.8 343.8h2.9M246.5 344.8h2.3M246.6 345.8h2.6M246.3 346.8h3.3M246.2 347.8h2.2M246.2 348.8h2.1M246.2 349.8h1.9M247.3 350.8h1.6M278.3 314h1.9M277.9 315h1.7M277.6 316h2M277.9 317h2M277.9 318h1.9M278.3 319h2.3M277.1 320h2.3M277.6 321h2.7M277.4 322h3.2M277.5 323h2.3M277.9 324h2.4M277.3 325h2.9M277.5 326h3.3M277.1 327h2.7M277.5 328h2.3M277.2 329h2.6M277.9 330h2.1M277.5 331h2.8M277.6 332h3.6M277.4 333h2.6M277.1 334h3.1M277.8 335h2.3M277.7 336h2.3M277.1 337h3M277.8 338h1.9M278.1 339h2M277.4 340h1.9M278.1 341h2.6M277.2 342h2.4M277.7 343h1.9M277.6 344h2M278 345h1.9M309.6 322h1.6M309.1 323h1.6M309.2 324h2.6M309.3 325h2.3M309.2 326h2M308.4 327h2.7M308.5 328h2.6M309.2 329h2.3M309.1 330h3.4M308.1 331h3.2M308.3 332h3.3M308.2 333h3.2M308.2 334h3.2M308.6 335h3.4M309.4 336h2.1M309 337h3.1M309 338h3.1M309.5 339h2.4M308.7 340h2.4M308 341h3.4M309.6 342h2M309 343h2.6M309 344h2.6M309.3 345h2.1M308.5 346h2.8M308.8 347h1.9M308.8 348h2.2M310 349h1.7M309 350h2M340.7 342h1.9M340.4 343h2.2M340.5 344h2.6M340.5 345h1.7M340.6 346h1.8M340.2 347h1.9M340.5 348h2.8M340.8 349h2.5M340.1 350h2.5M340.6 351h2.8M341.1 352h2.2M340.3 353h2.1M340.9 354h2.3M340.2 355h2.8M340.6 356h3.2M340.4 357h2.4M340 358h3.1M340.1 359h3.6M339.6 360h3.1M339.8 361h2.6M340.5 362h2.1M340.4 363h3.4M339.4 364h3.3M340.6 365h3.2M340.4 366h2.2M340.1 367h2.4M340.2 368h2M340.3 369h2.6M340.9 370h2.4M340.6 371h2M340.2 372h1.6M372.4 369.2h1.5M372.2 370.2h1.9M372 371.2h1.8M371.6 372.2h1.9M372.4 373.2h2M371.4 374.2h2.1M371.7 375.2h2.3M371.8 376.2h2.9M371.6 377.2h2.8M371.5 378.2h2.8M371.2 379.2h2.3" stroke="#e23b1f" stroke-width="1.15" fill="none"/>
<path d="M91.8 447.4 91.8 447.6 90.9 447.5" fill="none" stroke="none" marker-start="url(#mg)" marker-mid="url(#mg)" marker-end="url(#mg)"/>
<path d="M59.3 438.3 59.2 442 58.9 435.2 59.3 443.1 62 437.7 59.6 439.4 57.8 440.2 58.4 437 59.7 439.1 61.8 439.7 59.2 441.5 58 438.2 56.8 437.9 60.7 441.5 59.6 443.2 61.5 441.1 59.9 434 60.5 440.9 59.9 437 59.2 444 59.6 439.8 58.9 434.7 58.7 438.7 59 433.9 60.3 435.8 59.2 444.2 58.8 433.9 58.8 434.4 60.3 436.1 59.8 441.3 58.8 437.8 60.7 437.1 60 441 59.3 436.5 59.8 434.2 61.3 439.9 60.7 441.9 60 440.7 59.7 437.6 57.8 439.9 56.5 441.2 90.8 439.6 89.6 436.3 89.4 446.8 88.2 440.8 92.2 439 90.3 441.5 93.4 438.2 90.7 441.3 90.5 439.2 89.4 443.6 91.8 444.7 90.1 443.3 89.1 444.1 89.1 437.2 92.5 434.1 90.9 441.3 91.3 444 89.1 439.3 91.9 435.9 91.8 437.5 91.6 437 92.1 445.8 90.7 443.6 90.8 439 91.5 433.1 90.1 441.8 90.7 435.7 91.2 439.5 90.8 440.8 89.8 446.3 90.5 436.4 87.8 436.1 90.6 441 92.8 438.2 91.6 439 90.7 446.4 90.5 445.9 91.2 445.1 90.9 438.5 89 434.3 90.5 444.7 90.5 443 91.2 444.5 91.2 445.9 90.3 437.2 90.6 443.4 90.9 439.1 90.3 434.5 89.9 440.7 122.3 443.4 123 426.9 121.4 428.5 121.8 429.6 121.4 441.3 120.9 439.7 122.3 429.9 119.8 441.1 122.1 426.4 120.7 435.8 122.2 426.9 122.9 428.9 122.5 426.3 121.6 435.8 120.9 442.4 122.9 432.6 122.1 430.2 121.7 438 120.4 440.6 121.7 426.2 124.3 428.3 122.2 434.2 121 430.8 121.2 425 122.8 435.3 121.5 444.3 122.3 431.2 121.8 438.9 122 422.8 122.1 425.3 121.5 437 121.9 439.1 121.9 433.7 122.6 442.9 122.9 429.4 121.9 434.2 120.5 435.9 121.9 431.8 121 436 120.5 437.6 122.4 443.3 122.8 423.9 121.8 442 121.4 439.7 121 432.7 123.4 425.7 122.8 430.6 120.8 433.6 122.8 444.2 122.5 436.7 123.9 439.4 123.8 438.4 121.5 441.2 120.8 430.8 119.5 435.4 122.7 435.3 122.2 424.1 122 423.7 123.5 441.6 121.7 433 120.2 428.3 120.9 442.6 122.3 441.9 122.7 436.2 124.3 442 122.1 428.1 121.4 440.5 152 409.4 152.4 416 153.1 419.4 153.4 418.6 154.6 408.9 155.1 422.1 151.8 422.7 154.6 416.2 153.6 419.8 153.4 402.1 154.3 410 152.7 405.7 152.3 414.4 153.7 418.2 153.4 402.9 152.8 424.2 153.6 409 153.6 411.8 153.8 402.7 153.1 409.5 153.7 396.8 152.5 427.3 153.2 394.6 152.5 424.7 155.1 397 152.2 423.8 156.2 404.1 151.9 402.3 154 402 152.1 407 153.9 398.8 151.7 399.9 153.8 409.6 153.5 417.1 153.1 419.9 153.7 419.2 154.7 411.3 152.6 425 152.6 423.6 153.5 427 152.8 405.9 153.9 410.6 154.5 406.7 155.4 418.2 153.6 426.7 153.6 411.8 152.8 420.1 154.1 400.4 153.8 417.2 152.5 403.3 154.3 412.3 153.2 426.2 152.8 409.6 151.5 415.6 153.8 413.5 153 406.4 153.4 408.4 155.1 398.5 152.8 425.2 153.1 398.7 155.3 417.2 154.1 418.1 153.5 393 152.5 420 153.4 421.4 153 403.5 154.1 413.3 155.9 413.6 153 411 154.3 402.5 152 417.2 153.3 421 153.6 410.1 153.2 407.9 155.5 401.6 152.1 401.2 154.2 395.4 153.6 420.8 152.5 424.3 154.1 408.8 152.8 425.7 153.6 425.7 154.3 400.4 153.3 411.9 153.9 411.2 153.8 424.1 152.4 418.8 152.7 418.4 153.5 419.8 152 412.2 187.1 380.7 184.7 381 185.6 395.4 184.2 390.4 187.3 387.5 186.4 384.5 186 392.9 182.5 381.2 181.9 380.5 185.3 380.5 185.7 380.2 184.1 383.3 186.2 389.3 184.9 380.3 184.6 387.5 184.8 388.7 184.1 384.8 185.9 384.3 183.8 386.3 185 381.6 183.9 394.9 185 381.5 184.8 391.2 185.1 389.5 187 384.4 185.4 382.4 183.5 388.2 185.2 391.4 184.3 383.6 185.8 380.9 185.6 390.4 184.5 390.9 186.3 387 183.7 381.5 183.2 383.2 186.2 381.9 184.2 389.7 185.4 385.3 184.5 386.9 186.2 382.8 184.5 390.2 184.1 391.5 186.3 385.9 182.5 384.4 185.9 383.8 185.7 391.6 185.7 387.6 372.6 382.6 370.5 381.3 372.9 388.6 371 389 371 384.9 373.2 383.9 371.7 395.3 371.5 383.9 375.1 386.5 374.6 390.1 373.2 387.2 371.5 389 374.1 390.1 375 386 372.6 397.5 374.1 395.3 372.1 386.3 374.3 392.4 371.6 393.3 374.5 388.7 374.4 388.6 373.2 393.3 372 384.7 374.5 385.1 373.7 388.1 372.7 391.4 373.7 395.8 370.9 394.2 373.8 385.6 374.3 386.3 372.2 396.7 373 388.6 370.2 383.8 372.4 386.8 373.7 380.6 373 380.1 373.1 389.8 372.8 389.3 372.5 386.9 374.1 393.7 372.5 389.2 372.7 392.8 370.9 392.9 370.2 385.6 373.3 384.1 372.2 383.3 371.6 394.8 372.8 381 371.8 390.8 373.3 394.2 373.8 381.8 404.6 397.5 403.9 421.5 405 415.5 404.9 422.7 405.3 416.1 403.9 413.7 404.7 418.2 403.6 407.4 404.3 410.9 403.3 421.9 406.5 403.5 403.6 399.6 403.8 405 404.4 414.7 403.9 410.9 404.8 411.9 405.3 401.4 404.6 401.6 404.3 401.7 404.7 409.7 403.6 402.7 404.1 415 404.3 405.9 404.9 415.1 404.9 410.8 405.1 401.2 406.2 410 403.6 404 403.8 400.9 405 412.6 402.8 400.8 404.4 416.1 405.1 419.9 404.1 398.8 403.7 406.5 403.2 415.5 405.3 418.5 403.6 403.9 405.7 401 404.7 405.5 404.1 418.4 403.7 407.2 405.1 418.8 405.6 409.5 403.7 411.2 404.1 419.8 404 407.2 403 404.1 403.2 412.1 403.7 409.2 405.2 403.3 403.9 406.8 404.6 399.5 405.1 418.9 403.2 403.6 405.4 406.4 405.2 404.1 403.4 420.4 404.6 413.6 403.5 417.5 403.1 399.7 404.6 400 404.9 399.9 405.4 419.3 403.7 399.1 403.9 406.4 404.2 400.4 404.4 418.2 404.2 416.1 403.8 404.5 405.9 404.8 404 414.5" fill="none" stroke="none" marker-start="url(#mo)" marker-mid="url(#mo)" marker-end="url(#mo)"/>
<path d="M183.6 372.7 183.9 370.2 186.1 378.3 183.7 373.1 184.8 370.4 186.9 379.4 182.9 371.7 184.1 375.7 184.1 377.2 183.5 377.4 184.5 379.2 184.1 378.2 184.3 377.4 184.6 373.1 185.2 377.6 183.5 378.9 184.3 372.2 184 374.5 183.9 380 184.2 375.6 185.3 374.7 183.8 370.4 185.3 370.4 186.3 373 186.6 379.7 184.4 373.3 217.1 353.5 215.8 354.9 215.9 357.1 213.8 359.3 216.4 363.8 214.8 368.5 213.9 361 214.8 363.5 217.5 365 214.9 369.1 217.1 363.6 215.2 368.5 217.6 370.1 218.5 361.7 214 354.1 215.3 353.1 214.7 360.2 215.5 356 214.9 362 216 371.8 218.8 358 215.1 368.5 216.4 355.2 218.9 352.4 214.8 363.5 215.8 357.4 216.3 357.8 217 348.7 217.4 360.5 217.7 355.2 214.8 363.4 216.4 364 214.3 351.8 217.4 369.1 216 367.5 218.5 351.7 215 350.4 213.8 367.2 217.9 352.6 216.1 364 218.9 365 216.6 351.3 216 364.4 216.5 370 215.6 361.4 215.8 369.6 216.4 354 216.5 349.2 218.3 357.2 215.5 369.3 215.5 349.4 215.8 370 217 352.6 215.8 358.1 215.8 353.7 216.2 350.1 216.6 350.3 213.9 368 213.3 357.1 216.6 359.4 217.9 350.3 216.5 359.9 216 355.4 216 364 217.5 360.1 215.3 365.2 215.4 361.7 215.5 372.7 216.9 354.5 216.1 350 216.6 370.3 215.8 354.4 247 344.1 247.4 350.7 247 350.8 247.9 335.1 247.9 337.3 249.3 345.4 249.4 338.5 248.3 347.2 248.3 338.6 248.4 340.1 248.9 344.1 249.3 340.3 246.7 340.2 245.3 337 245.3 344 247.5 334 244.7 340.7 247.7 344.7 248 338.2 249.1 341.4 246.9 340.7 247.8 346.5 246.7 346.6 248.4 348.5 246 341.7 249.2 337.8 248.7 339.8 247.7 334.4 248.1 347.6 247.4 334.3 247.2 334.6 249.2 344.4 248 340.3 246.2 333.9 246.5 340 246.4 343.1 248.1 337.8 249.8 339 246.8 343.1 247.9 343.3 248.7 335.4 245.8 350.4 246.6 336.5 248.7 345.3 248.1 344.9 245.3 347.3 247.5 350.7 248 335.6 249 333.4 246.8 339.2 247.8 337.6 247.3 340.9 247.7 343.4 248.5 344.1 247.5 333.9 247.8 348.7 280.6 323.3 279.5 320.7 279.4 316 276.9 333.2 278 340.6 278.6 316.9 277.3 328.2 276.9 320.1 279.2 329.6 278.7 337.5 278.5 328.6 280.1 341.2 278.6 329.6 279 334.8 277.8 318.9 276.6 334.1 277.1 336.3 277.5 318.5 278.2 322.5 278.4 319.1 277.7 320.6 277.3 330.4 276.4 332.4 277.3 336.7 278.1 330.9 277.1 335.9 278.9 340.7 278.4 320.5 278.4 318.5 277.8 325.1 279.4 319.2 281.7 326.7 278.2 340.1 277.5 327.1 281.6 327.5 278.8 314.9 278 338.8 279.8 325.5 280.2 319 278.1 330.6 278.8 328.4 279.4 341.7 278.8 336.1 279.8 325 279.2 335.6 279.8 325.3 278.7 337.4 279.5 315.9 279.2 321 279.4 316.1 279.1 344 279 330.5 280.5 329.1 279.6 328.9 279.6 321.5 279.2 329.5 278 316.4 277.4 319 278.2 340.1 278.6 317.9 279.1 341.5 278.9 320.2 280.6 331.4 279.3 343.8 279.9 328.6 279.1 330.3 279.2 327.7 280.3 339.4 280.4 332.4 277.2 321.9 279.2 325.8 279.4 336.5 277.9 329.4 278.4 336.7 279.3 337.7 276.1 322 279 319.1 278.9 341.4 280.1 336.8 278.9 329.8 310.7 340.4 310.3 336.9 307.9 337.5 309.2 332.4 310.9 334.8 311.1 338.2 309.3 345.7 311.3 326.9 309.8 348.2 309.7 340.5 309.1 325.9 310.8 345.5 310 347.4 310 335.2 310.2 331.8 310.2 331.4 309.7 332.6 310.2 325.3 310.2 342 311 342.2 310.8 327.9 310.9 327.2 309.4 342.5 309 330.2 312.5 329.6 308.5 334 308.9 341.6 309.9 326.8 308.2 335.6 310.2 322.7 310.4 328.7 311.8 326 310.2 343.5 311.5 337.7 308.6 333.2 312.2 333.9 310.4 343.9 310.3 332.3 310.6 344.1 311.3 328.5 310.1 346.2 311 329.1 309.8 324.9 310.6 334.5 311.7 337.1 310.3 323.1 310.2 324.3 308 340.7 309.8 330.7 310.2 333.5 311 338.1 309.4 328.6 307.4 333.4 310.7 348.4 311.2 340.9 310.4 347.5 308.8 334.6 309.2 337.3 312.3 338.3 310.7 329.2 310 348.6 310.9 328.3 309.2 337.9 309.5 345.7 310.8 343.9 311.4 334.1 309.5 341.3 308.1 336.3 312.1 342.8 307.5 339.9 309.3 338.2 312 344 310.3 330.3 309.8 325.2 342.8 349.5 340.1 343.9 342 344.2 341.6 351.3 343.3 366 343 348.5 339.7 360.7 341.9 360.7 341.6 368.4 340.2 355.3 343.9 359.8 342.6 362 341.6 361 341.3 345.4 340.2 348.3 342.2 369.1 340.5 351.5 343.2 351.6 341.6 359 340.3 361.8 342.8 348.2 341.1 356.1 340.9 356.1 341.5 352.2 341 365.4 341.6 370.9 343.5 355.4 341.1 366.2 341.3 342.2 340.2 349 342.7 345.2 342.5 351.1 341.2 369.5 340.4 364.5 340.4 349.5 342.3 348.5 343.7 361.3 341.3 345 341.5 342.4 342.7 350.3 342.7 363.8 341.8 347.2 341.7 342.1 338.8 359.7 341.1 370.4 341.4 346.1 339.7 356.4 340.7 357.7 341.1 353 341.6 362.4 340.7 362.4 340.7 360.1 341.5 348.3 340.7 357.5 340.8 348.8 342.9 352.4 342.4 355.5 341.4 357.3 340.6 354.9 341 360.4 342.4 350.5 339.1 353.2 341.3 359.1 343.7 350.3 341.2 351.3 342.9 357.5 340.4 364.8 340.2 364.9 340.7 370.9 341.6 366.5 342.4 356.1 340.5 370 341.8 360.7 341 358.3 342 344.2 341.8 352.1 344.4 359.9 341.5 358.1 372.4 374 374 372.5 375.4 379.7 374.3 372.5 370.8 377 373.9 376.9 373 372.4 373.8 376.9 372.6 370.1 374 377.1 374 376.2 373.4 373.6 372.9 372.7 373.7 375 372.1 379.5 374.2 377 375.8 379.1 375.1 378.7 375 373.3 372.3 373.7 373 376.5 373.4 377.2 374.3 376.5 372.3 377.6 372.9 370.3 373.6 375.9" fill="none" stroke="none" marker-start="url(#mr)" marker-mid="url(#mr)" marker-end="url(#mr)"/>
<path d="M59.1 436.6h1.2M57.4 436.9h1.2M57.1 437.2h1.2M58.2 434.8h1.2M58.3 442.9h1.2M59.4 440.7h1.2M58.6 442.2h1.2M59.9 436.6h1.2M89 436.4h1.2M89.2 446.1h1.2M89.4 434.5h1.2M90.4 443.2h1.2M88.8 445.6h1.2M90 436h1.2M89.7 442.7h1.2M90.1 443.4h1.2M88.8 441.5h1.2M90.1 433.4h1.2M90.3 446.6h1.2M88.4 440h1.2M121.6 426.8h1.2M121.1 442.3h1.2M121.2 437.7h1.2M122.3 443.8h1.2M120 431.8h1.2M121.2 430.5h1.2M120.8 442.1h1.2M122.2 437.2h1.2M122.3 425.6h1.2M120.8 435.3h1.2M121.6 430.2h1.2M120.6 442.8h1.2M121.2 427.5h1.2M121.7 436.4h1.2M120.6 442.1h1.2M121.8 438h1.2M121.4 443h1.2M152.5 413.8h1.2M152.7 419.1h1.2M153.3 404.7h1.2M152.7 401.6h1.2M152.9 403.5h1.2M154.1 405.6h1.2M151.9 418h1.2M152.5 407.8h1.2M151.7 417.3h1.2M152.4 414.6h1.2M152.7 412.7h1.2M152.5 403h1.2M154.8 417h1.2M153.7 425h1.2M153.6 418h1.2M153 406.5h1.2M153.2 425.1h1.2M152.2 407h1.2M153.3 422.8h1.2M153.9 417.3h1.2M153.9 423.1h1.2M153.8 422.7h1.2M153 394.4h1.2M153.6 405.3h1.2M183.9 383.5h1.2M184.9 394.1h1.2M183.6 381.6h1.2M184.4 391.6h1.2M184.7 384.5h1.2M182.6 384.5h1.2M183.5 393.2h1.2M183.7 386.6h1.2M184.3 391.2h1.2M182.7 389.7h1.2M183.1 384.3h1.2M372.4 390.1h1.2M372.1 394.6h1.2M372.9 381.8h1.2M371 387.8h1.2M372.2 382.8h1.2M372.1 390.1h1.2M372.2 393.1h1.2M373.3 382.3h1.2M404.7 409.6h1.2M402.8 413.3h1.2M404.9 420.5h1.2M403.3 400.5h1.2M402.4 407.2h1.2M404.3 407.9h1.2M403.9 410.4h1.2M404.4 403.6h1.2M403 399.5h1.2M404.8 419.5h1.2M403.7 401.8h1.2M403.5 417.7h1.2M404.2 417.5h1.2M402.4 402.6h1.2M404.7 415.3h1.2M403.1 399.8h1.2M403.6 422.3h1.2M404.7 406.2h1.2" stroke="#6c6826" stroke-width="1.1" fill="none" opacity="0.8"/>
<path d="M184.8 379.9h1.2M184.1 373.5h1.2M184.2 370.4h1.2M185.1 376.9h1.2M185.3 372.9h1.2M184.2 373.6h1.2M184 369.2h1.2M215.7 366.5h1.2M215.7 361.9h1.2M216 365.3h1.2M215.2 369.6h1.2M214.6 362.4h1.2M213.9 366.5h1.2M215.5 364.4h1.2M215.4 357.5h1.2M215 356.5h1.2M215.1 365.8h1.2M215.1 358.3h1.2M214.4 359.2h1.2M214.8 364.8h1.2M216.5 368h1.2M214.7 363.2h1.2M215 368.9h1.2M215.8 367.6h1.2M215 369.4h1.2M248.3 343h1.2M249 344.5h1.2M246.2 341h1.2M245.9 342.2h1.2M247.9 341.7h1.2M247.5 345.8h1.2M247.9 348.3h1.2M246.8 340.3h1.2M246.1 345.2h1.2M247.4 333h1.2M246.8 343.4h1.2M246.8 349.7h1.2M247.4 347.5h1.2M278 344h1.2M278.1 333h1.2M277.8 317.1h1.2M279.5 329.1h1.2M277.7 337.8h1.2M277.7 340.7h1.2M278.7 315h1.2M278.6 326.3h1.2M279.3 338.6h1.2M278.5 326h1.2M277.1 319.4h1.2M277.9 330.8h1.2M278.2 330.2h1.2M279 317.6h1.2M278.7 322.3h1.2M279.3 315.7h1.2M278.6 316.5h1.2M277.9 323.5h1.2M278.6 320.2h1.2M278.1 333.8h1.2M309.3 346.1h1.2M309.9 328.5h1.2M310.8 332.1h1.2M309 330.7h1.2M309.1 325h1.2M311 328.9h1.2M309.8 333.8h1.2M308.5 336.6h1.2M308.6 333.2h1.2M310.9 338.4h1.2M309.2 325h1.2M311.2 335.3h1.2M309.5 333.9h1.2M309.6 343.7h1.2M308.3 333.5h1.2M310.5 328.9h1.2M310.3 328.4h1.2M309.8 338.4h1.2M310.4 345.1h1.2M340.5 359.4h1.2M341.7 356.4h1.2M341.3 359.2h1.2M340.6 344.8h1.2M341.3 357.5h1.2M341.6 358.6h1.2M341.7 364.7h1.2M340.3 362.8h1.2M342.2 361.8h1.2M339.6 352.3h1.2M341.2 366.2h1.2M341.1 350.1h1.2M341.3 348.4h1.2M340.3 346.5h1.2M340 352.5h1.2M340 354.4h1.2M341.3 351.5h1.2M341.3 371.6h1.2M340.5 367.5h1.2M341.9 354h1.2M371.6 376.2h1.2M372.1 377.8h1.2M372.1 372.1h1.2M372 378.8h1.2M372.7 374.6h1.2M373.2 377.7h1.2M373.1 375.3h1.2M372.5 375.1h1.2M372.1 378.5h1.2M373.5 379h1.2M372.6 373.8h1.2M372.7 369.2h1.2" stroke="#c8300f" stroke-width="1.1" fill="none" opacity="0.8"/>
<path d="M57.8 431.3h3M57.8 446h3M89.1 430.5h3M89.1 451h3M120.5 420.1h3M120.5 448.5h3M151.9 390h3M151.9 430h3M183.2 367h3M183.2 398.3h3M214.6 344.2h3M214.6 375.2h3M246 330.8h3M246 353.2h3M277.4 312h3M277.4 346.8h3M308.7 320h3M308.7 352h3M340.1 340h3M340.1 374h3M371.4 367.2h3M371.4 400.6h3M402.8 394.8h3M402.8 425.4h3" stroke="#333" stroke-width="1.2" fill="none"/>
<path d="M59.3,438.2C64.5,439.2 80.2,444.5 90.6,444.3C101.1,444.1 111.6,442.8 122,436.9C132.5,431.1 142.9,418.1 153.4,409.2C163.8,400.4 174.3,391.5 184.8,383.6C195.2,375.6 205.7,368.2 216.1,361.4C226.6,354.6 237,348.7 247.5,342.6C257.9,336.5 268.4,325.7 278.9,324.8C289.3,323.9 299.8,332.1 310.2,337.2C320.7,342.3 331.1,348.1 341.6,355.6C352,363.1 362.5,372.3 372.9,382.1C383.4,391.9 399.1,409 404.3,414.4" fill="none" stroke="#1a3ab4" stroke-width="2.25" stroke-dasharray="0.01 2.9" stroke-linecap="round"/>
<rect x="43.6" y="296.1" width="376.4" height="277.9" fill="none" stroke="#333333" stroke-width="1.2"/>
<line x1="43.6" y1="480.3" x2="420.0" y2="480.3" stroke="#333333" stroke-width="1.2"/>
<text x="37.3" y="484.2" font-size="11.6" text-anchor="end">5</text>
<text x="37.3" y="450.8" font-size="11.6" text-anchor="end">10</text>
<text x="37.3" y="417.4" font-size="11.6" text-anchor="end">15</text>
<text x="37.3" y="384" font-size="11.6" text-anchor="end">20</text>
<text x="37.3" y="350.6" font-size="11.6" text-anchor="end">25</text>
<text x="37.3" y="317.2" font-size="11.6" text-anchor="end">30</text>
<text x="59.3" y="495.6" font-size="11.6" text-anchor="middle">Jan</text>
<text x="90.6" y="495.6" font-size="11.6" text-anchor="middle">Feb</text>
<text x="122" y="495.6" font-size="11.6" text-anchor="middle">Mar</text>
<text x="153.4" y="495.6" font-size="11.6" text-anchor="middle">Apr</text>
<text x="184.8" y="495.6" font-size="11.6" text-anchor="middle">May</text>
<text x="216.1" y="495.6" font-size="11.6" text-anchor="middle">Jun</text>
<text x="247.5" y="495.6" font-size="11.6" text-anchor="middle">Jul</text>
<text x="278.9" y="495.6" font-size="11.6" text-anchor="middle">Aug</text>
<text x="310.2" y="495.6" font-size="11.6" text-anchor="middle">Sep</text>
<text x="341.6" y="495.6" font-size="11.6" text-anchor="middle">Oct</text>
<text x="372.9" y="495.6" font-size="11.6" text-anchor="middle">Nov</text>
<text x="404.3" y="495.6" font-size="11.6" text-anchor="middle">Dec</text>
<path d="M43.6 446.9h4.8M43.6 413.5h4.8M43.6 380.1h4.8M43.6 346.7h4.8M43.6 313.3h4.8M43.6 463.6h2.8M43.6 430.2h2.8M43.6 396.8h2.8M43.6 363.4h2.8M43.6 330h2.8M59.3 475.7V480.3M90.6 475.7V480.3M122 475.7V480.3M153.4 475.7V480.3M184.8 475.7V480.3M216.1 475.7V480.3M247.5 475.7V480.3M278.9 475.7V480.3M310.2 475.7V480.3M341.6 475.7V480.3M372.9 475.7V480.3M404.3 475.7V480.3" stroke="#333333" stroke-width="1.1" fill="none"/>
<text x="55.2" y="315.3" font-size="14.3">DCN (28.5°N)</text>
<text transform="translate(17.8,466.2) rotate(-90)" font-size="15.2" text-anchor="middle">Zhejiang ration culture</text>
<rect x="426.8" y="330.2" width="20" height="36.8" fill="#dc3420"/>
<text x="450.3" y="355.2" font-size="13">20°C</text>
<path d="M487.2 347.3L478.4 350.9L487.2 354.5" stroke="#333" stroke-width="0.7" fill="none"/>
<text x="489.6" y="355.2" font-size="13">Tem</text>
<rect x="426.8" y="379.8" width="20" height="36.7" fill="#7a7430"/>
<text x="449.0" y="403.0" font-size="13">10°C</text>
<path d="M485.8 395.1L477 398.7L485.8 402.3" stroke="#333" stroke-width="0.7" fill="none"/>
<text x="488.2" y="403.0" font-size="13">Tem≤20°C</text>
<rect x="426.8" y="429.4" width="20" height="36.8" fill="#22a040"/>
<text x="450.0" y="451.6" font-size="13">0°C</text>
<path d="M480.6 443.7L471.8 447.3L480.6 450.9" stroke="#333" stroke-width="0.7" fill="none"/>
<text x="483" y="451.6" font-size="13">Tem≤10°C</text>
<rect x="427" y="502.0" width="13.8" height="13.8" fill="#0c4f1c"/>
<text x="443" y="513.3" font-size="13.2" font-style="italic" fill="#262626">S. japonica</text>
<rect x="427" y="520.4" width="13.8" height="13.8" fill="#cf8f47"/>
<text x="443" y="531.7" font-size="13.2" font-style="italic" fill="#262626">H.fusiformis</text>
<rect x="427" y="538.3" width="13.8" height="13.8" fill="#9b1f0e"/>
<text x="443" y="549.6" font-size="13.2" font-style="italic" fill="#262626">G.lemaneiformis</text>
<rect x="427" y="556.0" width="13.8" height="13.8" fill="#a09a16"/>
<text x="443" y="567.3" font-size="13.2" font-style="italic" fill="#262626">E.denticulatum</text>
<text x="4.2" y="589.6" font-size="13.6">(c)</text>
<line x1="134.0" y1="677.5" x2="134.0" y2="859.4" stroke="#333" stroke-width="1.3" stroke-dasharray="13.3 12.9" stroke-dashoffset="8.2"/>
<rect x="42.7" y="790.0" width="91.3" height="13.7" fill="#0c4f1c"/>
<text x="84.5" y="800.4" font-size="12.9" font-style="italic" text-anchor="middle" fill="#262626">S. japonica</text>
<rect x="391.7" y="790.0" width="27.2" height="13.7" fill="#0c4f1c"/>
<rect x="42.7" y="808.0" width="91.3" height="13.7" fill="#cf8f47"/>
<text x="85.7" y="818.4" font-size="12.9" font-style="italic" text-anchor="middle" fill="#262626">H.fusiformis</text>
<rect x="391.7" y="808.0" width="27.2" height="13.7" fill="#cf8f47"/>
<rect x="42.7" y="826.0" width="140.9" height="13.7" fill="#9b1f0e"/>
<text x="112.0" y="836.4" font-size="12.9" font-style="italic" text-anchor="middle" fill="#262626">G.lemaneiformis</text>
<rect x="357.2" y="826.0" width="61.7" height="13.7" fill="#9b1f0e"/>
<rect x="183.6" y="843.8" width="173.6" height="13.7" fill="#a09a16"/>
<text x="269.7" y="854.2" font-size="12.9" font-style="italic" text-anchor="middle" fill="#262626">E.denticulatum</text>
<line x1="183.6" y1="666.0" x2="183.6" y2="859.4" stroke="#333" stroke-width="1.3" stroke-dasharray="13.3 13.3" stroke-dashoffset="0"/>
<line x1="357.2" y1="644.5" x2="357.2" y2="859.4" stroke="#333" stroke-width="1.3" stroke-dasharray="13.3 13.4" stroke-dashoffset="6"/>
<line x1="391.8" y1="676.0" x2="391.8" y2="859.4" stroke="#333" stroke-width="1.3" stroke-dasharray="13.3 13" stroke-dashoffset="7"/>
<path d="M48.2 693.9h20.4V697.1h-20.4ZM79.5 692.2h20.4V695.3h-20.4ZM110.9 682.8h20.4V691.4h-20.4ZM142.2 655.3h20.4V670.2h-20.4ZM173.6 641h20.4V655.3h-20.4ZM204.9 627.3h20.4V632h-20.4ZM236.3 630.8h20.4V637.2h-20.4ZM267.6 621.2h20.4V632h-20.4ZM299 615.2h20.4V620h-20.4ZM330.3 618.7h20.4V640h-20.4ZM361.7 655.9h20.4V665h-20.4ZM393 682.5h20.4V688.4h-20.4Z" fill="none" stroke="#3a3a3a" stroke-width="1"/>
<path d="M58.4 689V703M89.7 688V699.3M121.1 669V700.9M152.4 640.8V681.5M183.8 633V667M215.1 619.3V639.2M246.5 614V646M277.8 604.8V647.2M309.2 607.2V624.8M340.5 611.3V649.6M371.9 643.5V674.5M403.2 667.5V695.5" stroke="#333" stroke-width="0.7" fill="none"/>
<path d="M57.7 691h2.3M56.8 692h2.3M57.2 693h2.7M56.7 694h3.2M57.4 695h2.8M56.7 696h2.4M57.2 697h2.3M57.2 698h3.2M57.1 699h2.2M57.5 700h2.1M56.6 701h2.6M88.4 690h2.5M88.7 691h2.3M87.9 692h2.8M89.1 693h2.1M87.8 694h3.6M88.6 695h2.3M88.6 696h2.4M88.8 697h2.9M120.7 672h1.8M120.3 673h1.9M119.7 674h2.3M119.9 675h2.7M120 676h2.9M119.1 677h3.2M119.3 678h3.1M119.4 679h2.3M119.4 680h2.7M119.2 681h3.3M119.5 682h2.4M119.6 683h3.2M119.3 684h3.1M119.4 685h3.3M119.4 686h3.4M119.5 687h3.3M119.3 688h2.5M120.3 689h2.4M119.8 690h3.1M120.1 691h2.3M119.5 692h2.6M119.7 693h2.1M119.9 694h2.1M119.8 695h2.4M119.9 696h2.3M120.2 697h2.2M120.6 698h1.8M120.8 699h1.5M150.5 671.8h3.2M151.1 672.8h2.9M151 673.8h2.8M151.5 674.8h1.9M152 675.8h1.9M151 676.8h2.4M151.1 677.8h1.9M151.7 678.8h1.4M151.2 679.8h1.6M371.1 672.5h2.1M402 672.5h2M401.4 673.5h2.6M402.2 674.5h2M401.7 675.5h2.7M401.8 676.5h3M402.1 677.5h2.9M402 678.5h2.9M401.8 679.5h3.4M401.6 680.5h2.9M401.7 681.5h2.2M402.4 682.5h2.7M401.9 683.5h2.5M401.5 684.5h3M401.4 685.5h3.5M402 686.5h2.2M402.6 687.5h2.4M401.2 688.5h3.2M401.7 689.5h2.3M402.1 690.5h1.9M401.9 691.5h2.5M402.2 692.5h1.9M402.4 693.5h2.1" stroke="#8a8434" stroke-width="1.15" fill="none"/>
<path d="M120 671h1.5M151.5 642.8h1.7M151.3 643.8h1.8M151.7 644.8h2.3M151.7 645.8h1.6M151.2 646.8h1.7M151.1 647.8h2.4M151.2 648.8h2.4M151.3 649.8h3.1M150.6 650.8h2.5M150.7 651.8h2.3M151.7 652.8h2.1M150.7 653.8h3.1M150.7 654.8h3.2M151.8 655.8h2M151.4 656.8h3M150.6 657.8h2.5M150.6 658.8h3.4M151.2 659.8h3.1M150.3 660.8h3.6M151.3 661.8h2.3M151.5 662.8h2.6M150.7 663.8h3.4M150.7 664.8h3.3M150.5 665.8h3.4M151.2 666.8h3.5M151.5 667.8h2.6M151.9 668.8h2.1M151.2 669.8h3M150.9 670.8h2.5M182.9 635h2M182.5 636h2.1M182.3 637h2.4M182.9 638h1.7M182.8 639h2.7M182.7 640h2.1M181.9 641h2.7M182.4 642h2.2M182.4 643h3.4M182 644h2.7M182.8 645h2.7M182.8 646h3.1M182.5 647h2.7M182.6 648h2.7M182.7 649h2.8M182.1 650h3.6M182.1 651h2.1M183 652h2.8M182.6 653h2.9M182.1 654h3.5M182.4 655h2.9M182.6 656h2.1M182.9 657h2.7M182.6 658h1.9M182.4 659h2.6M182.4 660h2.5M182.9 661h2M182.1 662h2.3M182.9 663h2.1M183.1 664h2.3M183.1 665h1.9M213.8 621.3h2.3M213.8 622.3h1.8M214.8 623.3h1.8M213.2 624.3h3.2M213.4 625.3h3.4M212.8 626.3h3.5M213.4 627.3h2.3M213.6 628.3h3.3M213.2 629.3h3.6M213.7 630.3h3M213.4 631.3h2.3M213.4 632.3h3.4M213.7 633.3h2.5M214.4 634.3h2M214.4 635.3h2.4M213.2 636.3h2.7M214.7 637.3h1.7M245.2 616h2M244.7 617h2.4M245.3 618h2.3M245.9 619h2.3M245.5 620h3M245.2 621h2.1M244.8 622h3.1M245 623h2.9M245.3 624h2.8M244.8 625h3.2M245.1 626h2.1M245.4 627h3.3M244.9 628h3M245.3 629h2.6M244.9 630h2.9M245.1 631h2.2M244.8 632h3.1M244.7 633h3.2M245 634h3.3M245.9 635h2.2M245.7 636h2.5M245.8 637h2.5M245 638h3.1M245.3 639h2.9M245 640h2.6M245.4 641h2.8M245.6 642h2.3M245.1 643h1.7M245.2 644h2.1M277.1 606.8h1.8M276.4 607.8h1.6M276.9 608.8h1.7M277 609.8h1.6M277 610.8h2.3M277.4 611.8h1.9M276.7 612.8h2.2M276.5 613.8h2.8M277.2 614.8h1.9M276.3 615.8h2.8M277.3 616.8h2.3M276.1 617.8h2.5M276.6 618.8h2.9M276.4 619.8h2.3M276.4 620.8h2.2M275.5 621.8h3.6M276.3 622.8h2.6M275.8 623.8h3.6M276.7 624.8h2.2M276.2 625.8h3.3M276.2 626.8h3.1M276.1 627.8h3.5M276.4 628.8h2.1M275.7 629.8h3M276.8 630.8h2.1M276.4 631.8h3.4M277 632.8h2.8M276.4 633.8h3.1M276.4 634.8h2.8M276.4 635.8h2.4M276.5 636.8h2.8M276.7 637.8h2.7M276.3 638.8h2.3M276.8 639.8h2.2M276.3 640.8h2.3M276.8 641.8h2M276.2 642.8h2.5M277.4 643.8h1.7M277.1 644.8h1.5M307.5 609.2h2.2M307.3 610.2h2.7M308.2 611.2h3M308.5 612.2h1.9M307.9 613.2h2.5M307.2 614.2h2.9M307.1 615.2h3.6M306.9 616.2h3.7M307.2 617.2h2.8M307.7 618.2h3.5M308.3 619.2h2.2M308.3 620.2h2.6M308.2 621.2h2.8M307.9 622.2h2M308.2 623.2h1.8M339.2 613.3h1.8M339.5 614.3h1.7M339.5 615.3h1.6M340.1 616.3h1.6M340 617.3h2M339.9 618.3h2M339.1 619.3h2.2M339.8 620.3h1.9M339.5 621.3h2.2M338.7 622.3h2.6M338.6 623.3h2.9M339.6 624.3h2.5M339.5 625.3h2.7M338.7 626.3h3M339.5 627.3h2.9M339.3 628.3h3.3M339.2 629.3h3.3M339.1 630.3h2.3M339.8 631.3h2.2M339.2 632.3h2.7M339.1 633.3h3.2M338.7 634.3h3.6M339 635.3h2.3M339.3 636.3h2.5M338.9 637.3h3.2M339 638.3h2.9M339 639.3h3M340.1 640.3h1.9M339 641.3h2.2M339 642.3h2M339.6 643.3h2.3M338.8 644.3h2.4M339.3 645.3h1.9M340.1 646.3h1.8M340.1 647.3h1.6M371 645.5h1.8M370.8 646.5h1.7M370.2 647.5h2.5M371.1 648.5h2.4M371.1 649.5h1.9M370.4 650.5h2.5M370.4 651.5h2.8M370.7 652.5h2.2M370.6 653.5h2.5M369.9 654.5h3.2M370.4 655.5h3.5M369.7 656.5h3.5M369.9 657.5h3.6M370.4 658.5h2.6M369.8 659.5h3.5M370.9 660.5h2.3M370.8 661.5h3.2M370.4 662.5h3M370.6 663.5h3.4M370.4 664.5h2.7M370.6 665.5h2.8M370.3 666.5h3.2M370.3 667.5h2.3M370.7 668.5h2.7M370.9 669.5h2.7M371 670.5h2.3M370.5 671.5h2M401.5 669.5h2.2M402.5 670.5h1.9M402.2 671.5h1.7" stroke="#e23b1f" stroke-width="1.15" fill="none"/>
<path d="M58.5 699.4 58.1 700.6 57 697.1 59.2 697 59.8 700.1 58.6 698.1 57.1 697.7 58.7 691.4 58.2 693.1 57.3 697.5 61.2 695.5 59.3 691.8 61.1 694.2 57.4 697.6 57.9 693.7 61.2 696.4 57.9 693.3 59 698.9 57.9 698.8 57.7 698.7 59.1 694.8 57.7 698.9 58.4 694 59 699.8 59.6 695.2 58.6 691.6 57 694.7 58.3 695.9 58.2 696.4 56.5 695.1 59.3 694.9 57.8 695.9 58.7 691.7 59.9 698.1 57.6 691.5 58.6 696.2 59.4 696 57.4 699.9 58.1 698 59.1 693.9 90.9 692.4 90 691.5 88 693.5 89.2 694.8 88.3 694.5 89.9 692.1 88.9 695.1 90.2 694.2 90.1 697.1 88.6 693 88.6 691.8 89.3 694.2 88.8 691.2 92 695.4 90.5 692 89.3 693.5 88.9 692.9 89.9 694.2 88 693.5 90.8 691.4 91.1 693.4 89.6 696.5 89.1 697.2 91 695.5 92 694.1 89.2 694.3 90.5 693.7 90 693.4 89.7 693.8 90.4 691.5 89.3 695.9 89.4 692.7 90.8 691.4 90.2 690.1 89.6 693.6 120.9 687.9 119.4 681 120.6 677.1 120.1 689 123 688.5 121.4 682.8 120.6 674.4 120.6 679.3 121.7 676.9 118.9 690.5 120.9 672 119.4 686.6 120.8 671.8 120.3 696.8 121.3 674.4 121.2 696.1 122 673.6 121.3 693.1 122.2 690.1 121 674.6 121.8 682.9 121.5 691.1 123 695.1 121.6 676.3 119.1 679.3 120.2 697 122.5 685.7 120.1 696 120.8 690.6 121.4 688.2 121.9 692.5 118.9 689 120.8 681 121.9 690.9 120.1 675.3 121.1 686.6 120.2 686.7 121.4 691.2 121.3 697.2 121.6 673.4 121 676.2 120.8 672.1 120.9 680.5 121.9 691.8 121.2 673.7 121.1 681.9 122.1 688.6 120.7 682.8 120.2 676.9 119.4 679.4 119.4 687.6 120.4 690.9 121.8 687.8 121.3 675 121.4 673.8 121.9 684.6 119.6 693.3 121.8 697 120.5 694.1 120.6 689.6 121.2 697.4 120.8 698 120.2 674.6 119 692.8 121 679.9 122.8 674.2 119.8 694.4 119.5 677.8 119.7 682.2 122.6 682.1 121.7 687.6 123 693.4 119.9 685.8 122.9 689.9 152.8 674.9 152.6 673 152.3 676.9 151.7 672.3 153.1 672.6 151.5 672.1 151.8 673.5 152.9 673.9 152.6 677.9 152.5 675.2 151.9 678.1 151.7 674.5 152.7 677.6 150.5 672.4 151.6 677.2 372.9 672.5 401 673.5 400.7 683.7 404.4 684.4 405.4 674.1 401.8 679.9 403.4 692.7 402.5 689 403 672.6 403.4 692.6 404.4 676.8 402.3 683.8 403.8 672.7 404.3 680.5 403.3 681.5 402.8 680.5 403 681.7 403.3 673.6 404.5 680.6 400.4 686.3 402.7 688.9 405.6 682.7 402.6 688.9 403.6 684.9 401.6 688.2 403.5 685.5 402.6 676.2 404.1 685.2 401.9 682.7 403.2 693.4 404.5 678.9 403.1 674.7 402.8 684.6 404.1 679.7 402.2 676 403.3 676.4 403 678.7 404.7 678.7 401.5 678.1 401.7 680.6 403.1 676.4 403.6 679 404.1 682.4 403.5 688.5 404.5 675.3 404.3 685.4 405 683.4 402.9 693.7 404.1 684.5 401 681.5 401 687.4 403.3 684.2 401.8 690.5 402.8 687.9 406 685.9 402.2 680.6 403.4 690 403.8 681.8 402.9 688.9 403.3 688.1 404.4 676 403.4 685.6 403.4 680.3 403.7 684.1 404.4 677.2" fill="none" stroke="none" marker-start="url(#mo)" marker-mid="url(#mo)" marker-end="url(#mo)"/>
<path d="M151.4 648.5 152.7 660.8 151.9 659.5 152.5 668.4 150.3 661.4 152.5 649.2 151.8 663.6 153.2 662.7 155 661.5 151.2 651.6 151.7 650.8 150.7 649.4 153 662.7 150.8 659.6 151.7 671.6 152.4 661.6 150.4 663.8 151.9 663.1 152.9 668.5 150.6 651.9 151.4 662.3 154.2 647.7 152.8 657.5 153.2 670.7 151.3 653.6 153.3 662.9 151.1 661.6 151.5 667 152.8 654 153.6 670.7 152.7 663.5 151.3 643.2 149.6 666.3 152.7 649.4 153.7 658.6 152.7 654.5 151.8 643.6 153.3 648.6 153.6 665.8 153.4 663.8 152.5 659.1 153 654.7 155.2 656 153.7 663.3 150.7 669.6 153.3 651 154.9 653.8 152.2 655.4 153.2 660.2 152.4 666.6 154 653 151 664.5 149.9 656.2 151.6 648.9 155.2 661 152.8 665.4 151.3 666 153.2 668.6 155.1 667.5 152.3 660.4 151.4 650.5 153.7 669.6 151.7 666.8 154.2 652.3 153.9 649.5 149.6 661.2 153.4 655.9 152.9 646.2 153.7 666.6 154.6 653.6 152.1 666.2 151.3 671.3 154.5 658.7 152.1 660.2 152.8 649.6 152.6 663.2 182.8 645.5 184.4 652.9 183.7 657.3 184.1 639.5 185.8 639.2 182.9 645.5 183.4 643.4 183.8 639.1 184.8 656.3 185 640.6 185.1 650.3 181.8 641.2 186.5 654.7 183.5 663.2 184 654.8 186.6 655 183 642.5 185.1 644.5 183.4 653.9 184.3 644.1 182.9 646.1 184.1 640.3 183.7 641.1 183.9 660.8 182.8 645.1 186 649 183.7 659.1 181.7 646.6 183.5 648.4 184.3 651.1 185 638.2 182 643.3 183.3 659.8 183 646.2 182.6 643.5 183.6 648.3 183.6 655.9 184.4 648 185.5 645.7 183.3 657.5 182.1 648.5 183.4 637.4 182.2 658.8 182.2 658.9 186.4 655 183.8 641.7 183.1 656.2 182.5 647.8 183.1 644.5 184.5 644.6 183.2 659.8 183.6 649.7 182.4 651.6 184.7 648 183.9 643.4 184.3 654.2 182.3 660.4 184.2 653 184.2 653 183 651.5 182.7 648.3 183.6 646 183.4 641.6 181.9 644.3 184.7 663.1 184.3 655.4 183.1 636.9 182.9 657.5 186.1 647.4 181 645.1 185.1 642 183.6 637 185.4 655.3 184.2 645.6 183.5 657.9 185.2 654.1 184.2 642.4 183.3 644.9 214.9 625.3 216.2 636.4 214.7 630 213.7 624.4 215 628.4 214.5 635.4 215.1 631 214.3 626 214.3 636.2 215.3 632.3 216.9 627.4 212.7 630.6 215.7 626.8 214.9 627 216.3 626.5 214.4 622.2 215 630.5 215.5 636.3 213.6 628.7 214.5 626.7 214.1 635.2 214.2 633.1 215.4 628.9 215.4 630.4 215.2 635.3 216.6 629.9 217.3 628.3 214.5 629.4 214 628.9 215.9 625.4 215.1 630.7 217.6 633.6 213.8 631.5 214.9 625.9 215.1 627.3 212.8 630.8 215.1 635.6 214.6 627.1 215.5 637.3 215.1 633.5 213 628.1 214.8 627.4 214.1 627.3 216.6 625.5 213 627.5 214.9 631.3 216 632.3 216.6 633 216 631.3 212.3 633.5 214.7 636 246.3 621.7 245.7 632.6 246 628.2 245.3 631.7 248.3 624.4 247.3 626.7 247.8 623 245.5 639.7 246 624.5 247 623.7 245.5 633.1 246 619.1 247.6 629.2 247.6 641.7 245.6 628.2 245.2 625.7 246.6 618.8 246.9 624 247.4 622.2 246.8 628.5 245.1 619.4 246.8 636.9 245.8 628.3 247.7 640.2 247.4 618.2 245.4 637.6 246.5 633.7 248 631.9 244.6 632.2 247 619.7 248.3 633.1 245.9 632.4 248.3 639.9 246.8 636.6 246.2 630.7 248 634.5 246 622.8 247.5 622.3 246.4 618.9 246.9 639.7 247.6 628.8 246.8 638.6 248.3 632.6 247.2 629.4 245.5 629 245.7 616.1 247.2 633.4 247.1 619 248 633.2 247.1 622 246 632.1 245.2 629.3 247.3 636 247 641.3 244.8 639.5 246.2 631.8 248 634.2 246.4 642.7 247 616.5 247.4 637.2 246.8 631.4 245.4 635.3 246 643.1 248.1 635 246.1 633.5 247.5 620.3 247.7 628.2 247.7 628.4 246.3 633.9 247.1 640 247.7 637.7 248.2 624.8 243.7 635.1 247.4 622.5 278.6 627.7 278.9 627 279.7 626.3 277.1 631.1 277.5 630.3 276.9 614 277.6 610.3 277.3 635.6 277.8 632.4 277.4 627.8 277.2 612.8 277 631.4 277 626.6 275 622.2 276.6 629.8 278.6 634.2 277.9 614.2 276.6 638 276.8 625.6 277.8 636.5 277.2 622.4 277 612.2 275.6 632.1 279.6 635.5 278.3 640.6 278.2 627.1 278.1 633.4 278.7 614.8 278.9 620.9 276.6 613.4 277.3 624.9 275.8 619.7 279 622.8 278.3 643.2 277.2 611.1 278.1 612.2 278.8 625.7 277.5 635.9 278.8 613.5 276.8 634.6 279.3 617.8 275.1 621.8 275.7 627.1 276 632.8 278.2 634 278.5 620.1 277.7 627.1 279 624.9 280.6 632.9 277.7 644.3 276.5 631.9 279.2 641.4 279.1 639.6 278.5 634.2 276.9 638.4 277.2 637.9 276.8 624.9 278.4 627 276.4 627.6 277.2 607.3 278.6 610.3 277.9 612 276.3 618.4 278.6 629.9 279.3 638.3 278.1 630.7 277.5 620.1 278.5 618 279.8 635 277.4 614.4 277.1 638.9 276.7 634 277.2 619.1 279.1 628.1 275 637.7 279.4 624.5 278.3 640.9 279.1 624.8 276.2 616 278.5 637.3 277.6 642.3 280.1 629 278 613 276.2 622.8 278.1 608.5 278.4 612.6 277.7 636.1 279.7 633.5 278.2 637.2 276.5 611.7 275.6 617 277.4 607.3 278.2 610.3 278 608.6 309.8 614.9 310.1 619.1 307.8 614.8 309.7 616.2 309.2 619.8 309.5 616.8 307.3 610.7 310.7 612.7 308.2 613.7 309 617.2 311.8 616.8 310.4 615.7 308.8 622.7 307.9 621.6 308.7 616.1 308.5 620.2 309.9 620.9 309.7 620.9 309.8 610.1 308.4 620.4 312 617.4 309.6 613.6 309.8 617.1 309.9 618.6 310.1 614.8 310.2 612.5 308.3 619.5 311.6 615.1 309.3 617.7 308.7 617.7 307.8 614.8 307.5 615.9 308.8 612.3 311.1 611.9 307.2 619.3 307.7 613.5 309.7 613.7 311.3 615.3 310 616.2 309.7 618.5 309.4 615.1 310.2 610.8 311.2 619.4 308.5 609.1 310 613.4 309.9 613.4 308.9 615.3 341.9 638.6 338.4 622.7 340.8 614 339.5 621.9 341.6 639.2 339.8 617.8 338.9 631.1 339.3 639.4 341.4 613.9 341.6 632 340 622.4 338.7 635.5 341.3 614.9 341.5 636 340.4 623.8 341.6 627.2 341.4 632.9 341.5 624.9 340.9 635.1 339.5 621.2 340.7 634.6 339.5 627.6 337.8 635.2 342.2 640.2 341.5 632.5 340.7 625.1 340 621.9 340.9 619.7 341.1 632.2 338.6 637.3 339.9 632.9 340.3 621.6 339.1 639.2 339.6 631.6 341.2 621 340.2 623.9 339 634.5 341.5 632.3 340.8 636.4 342.8 635.1 341.8 644.1 341.8 637.9 341.1 642.3 342.2 628.8 339.5 640.3 339.6 633.2 341 645 341.5 626.7 341 623.4 338.7 632.9 340 629.1 340.8 617.5 340.1 619.1 341.7 642.7 340.9 621.9 343.2 632.4 341.6 636.1 339.9 631.7 341 625.7 339.9 624.5 340.5 622.5 341.8 630.5 341.1 613.6 341.6 642.8 343.3 636.7 337.7 626.3 339.4 637.2 340.2 634.8 340.1 615.9 342.7 634.3 341.3 623.2 342.4 620.4 340.8 618.1 342.5 643.7 341 630.6 340.3 613.6 342.4 623.8 340.4 633.3 339.2 645 337.7 627.4 339.5 626.3 339.5 617.9 342.2 623.5 339.5 642 341.5 638.5 338.1 642.3 371.6 650.1 370.8 668.4 371.4 669.9 371.4 658.6 371.9 646.9 370.8 649.9 370 655.9 371.7 647.3 372.1 669 372.6 662.9 373.4 664.7 372.4 648.9 374.5 656.9 371.9 666.1 370.5 655.7 374.1 655.3 374.3 660.8 371.3 662.6 372.1 666.7 372.4 660.2 372 649.8 372 649.5 372.1 646.6 371.3 670.6 371.8 658.4 372.5 648.3 372.2 666.2 372 666.5 372.6 665 373.9 661.9 373.2 656.4 371.6 657.7 374 648.9 371.7 662.7 371 647.6 372.3 651.3 371.6 661.7 373.6 647.2 372 647.3 372.1 662.9 372.6 649.5 371.5 649.2 369.1 657.4 372.2 661.6 371 655.5 373.2 669.7 372.3 649.3 371.3 657.2 371 667.8 371.2 663.1 370.4 654.3 373.3 669.1 372.5 657.9 374.4 663.8 373.4 667.7 372.1 655.8 371.6 650.3 373.6 654.1 372.2 664.3 371.8 658.7 373.2 658.1 373.9 669.3 371 647.1 373 662.7 373.2 651.9 373.8 664.7 373.2 667.8 372.4 657 371.1 666.7 371.6 659.4 374.3 666.9 402.9 669.4 403.2 670.5 403.4 670.8" fill="none" stroke="none" marker-start="url(#mr)" marker-mid="url(#mr)" marker-end="url(#mr)"/>
<path d="M57.5 693.8h1.2M57.4 699.3h1.2M57.9 697.4h1.2M59 698.5h1.2M59.5 696h1.2M58.1 692.1h1.2M56.9 695.1h1.2M59.3 694.5h1.2M90.1 694.1h1.2M89.6 696.6h1.2M89 695.6h1.2M89.1 693.7h1.2M89.1 696h1.2M89.5 692.2h1.2M120 696.5h1.2M121 674.4h1.2M120.1 672.1h1.2M119.9 676.2h1.2M119.9 685.6h1.2M120.6 674.8h1.2M119.5 689.6h1.2M119.5 675.3h1.2M120.9 677.4h1.2M120 691.5h1.2M120.7 676.2h1.2M120.2 697.1h1.2M120.2 677h1.2M120.1 690.9h1.2M121.8 681.3h1.2M121.8 677.8h1.2M120.6 693.9h1.2M120.8 680.4h1.2M120.2 689.3h1.2M151.6 674.5h1.2M401.8 679.2h1.2M404.4 681.3h1.2M402.8 692.4h1.2M403.7 690.1h1.2M403.4 677.7h1.2M403.2 677h1.2M403.1 677.2h1.2M402.8 674.5h1.2M403.5 687.7h1.2M402.7 673.1h1.2M402.4 677.3h1.2M404.1 690h1.2M401.6 687h1.2M403 685h1.2M403.3 690.2h1.2M402.6 676.5h1.2" stroke="#6c6826" stroke-width="1.1" fill="none" opacity="0.8"/>
<path d="M152.7 656.7h1.2M153 658h1.2M151.1 644.4h1.2M152.1 667.7h1.2M152.2 649.5h1.2M151.9 649.5h1.2M151.8 652.1h1.2M151.5 651.4h1.2M152.1 658.1h1.2M150.1 653.6h1.2M150.2 663h1.2M152.2 644.6h1.2M152.7 647.9h1.2M151.9 646.6h1.2M150.9 664h1.2M152.3 644.8h1.2M151.9 648.6h1.2M152.6 665.6h1.2M151.6 657.9h1.2M152 668.7h1.2M151.6 648.7h1.2M151.9 664.1h1.2M152.1 661.9h1.2M183.7 640.4h1.2M183.6 659.5h1.2M183.7 661.1h1.2M183.7 655.9h1.2M183.6 661.2h1.2M182.8 650.7h1.2M184.3 650h1.2M184.9 650.3h1.2M184.5 655.7h1.2M182.1 652.9h1.2M180.7 651.9h1.2M183 654.1h1.2M182.9 640.8h1.2M181 654.8h1.2M183.4 640.2h1.2M183.7 642.8h1.2M183.6 644.6h1.2M182.5 657.9h1.2M183.9 643.5h1.2M184 644.9h1.2M214.8 630.3h1.2M214.2 623.9h1.2M214.1 632.1h1.2M213.9 623.5h1.2M214.2 628.2h1.2M214.2 625h1.2M215 627.8h1.2M214.2 631.8h1.2M214.2 627.5h1.2M215.1 627.4h1.2M214.6 629.1h1.2M245.8 640.4h1.2M246.5 632.6h1.2M245.2 625.4h1.2M246.3 639.4h1.2M246.5 621.2h1.2M246.4 635.2h1.2M245.3 632h1.2M245.4 634.1h1.2M245.2 638.9h1.2M244.5 623.1h1.2M246 628.2h1.2M245 628.3h1.2M245.4 642.1h1.2M245.9 628.6h1.2M246.5 621.5h1.2M246.1 629.7h1.2M246.4 638.7h1.2M246.1 630.6h1.2M245 626.1h1.2M276.8 620.7h1.2M277 630.6h1.2M276.8 619.5h1.2M277 611.3h1.2M277.5 618.7h1.2M277.6 635.4h1.2M277.8 633.5h1.2M275.4 635.3h1.2M278.3 611.3h1.2M277.9 633.1h1.2M277.1 615.9h1.2M278.5 614.9h1.2M277.7 642h1.2M277 634.8h1.2M277.2 616.3h1.2M278 618.7h1.2M277.7 637.3h1.2M277.4 615.3h1.2M277.2 643h1.2M277 627.9h1.2M277.6 637.5h1.2M276.4 613.3h1.2M277.5 613.1h1.2M277 623.5h1.2M277 617.8h1.2M308.8 610.7h1.2M307.4 618.1h1.2M308.9 612h1.2M307.9 612.7h1.2M308.9 611.7h1.2M309 622.1h1.2M307.4 614.1h1.2M308.2 619.3h1.2M308.5 610.3h1.2M308.9 617h1.2M339.8 617.9h1.2M340 621.6h1.2M339.1 634.3h1.2M340.6 632h1.2M340 618.1h1.2M338.7 638.6h1.2M339.5 641.1h1.2M341.5 622.8h1.2M340.7 624.7h1.2M338.9 624.3h1.2M341 640.3h1.2M340.3 625h1.2M339.1 631.3h1.2M338.9 644.3h1.2M340.3 632.1h1.2M340 624.1h1.2M341 618.7h1.2M341.1 631.6h1.2M340 625.3h1.2M339.4 623.4h1.2M340.4 638.4h1.2M339.5 617.9h1.2M370.3 651.1h1.2M372.6 667h1.2M371.3 657.6h1.2M372.2 661h1.2M371.8 655h1.2M372.3 666.4h1.2M369.5 652.9h1.2M372.1 667.4h1.2M371.4 660.3h1.2M371.8 650h1.2M370.8 664.5h1.2M372 660.4h1.2M370.4 651h1.2M371.2 669.3h1.2M371.3 664.9h1.2M370.9 662.2h1.2M371.1 663.2h1.2M370 652.1h1.2" stroke="#c8300f" stroke-width="1.1" fill="none" opacity="0.8"/>
<path d="M56.9 689h3M56.9 703h3M88.2 688h3M88.2 699.3h3M119.6 669h3M119.6 700.9h3M150.9 640.8h3M150.9 681.5h3M182.3 633h3M182.3 667h3M213.6 619.3h3M213.6 639.2h3M245 614h3M245 646h3M276.3 604.8h3M276.3 647.2h3M307.7 607.2h3M307.7 624.8h3M339 611.3h3M339 649.6h3M370.4 643.5h3M370.4 674.5h3M401.7 667.5h3M401.7 695.5h3" stroke="#333" stroke-width="1.2" fill="none"/>
<path d="M58.4,695.5C63.6,695.2 79.3,695.1 89.7,693.8C100.2,692.4 110.6,692.3 121.1,687.1C131.5,681.9 142,669.2 152.4,662.8C162.9,656.3 173.3,653.7 183.8,648.1C194.2,642.6 204.7,633 215.1,629.6C225.6,626.3 236,628.7 246.5,628.2C256.9,627.7 267.4,628.4 277.8,626.6C288.3,624.8 298.7,617.1 309.2,617.6C319.6,618.1 330.1,622.2 340.5,629.4C351,636.5 361.4,651.1 371.9,660.5C382.3,669.8 398,681.3 403.2,685.5" fill="none" stroke="#1a3ab4" stroke-width="2.25" stroke-dasharray="0.01 2.9" stroke-linecap="round"/>
<rect x="42.7" y="588.0" width="376.2" height="271.4" fill="none" stroke="#333333" stroke-width="1.2"/>
<line x1="42.7" y1="772.2" x2="418.9" y2="772.2" stroke="#333333" stroke-width="1.2"/>
<text x="36.4" y="776.1" font-size="11.6" text-anchor="end">5</text>
<text x="36.4" y="742.6" font-size="11.6" text-anchor="end">10</text>
<text x="36.4" y="709.1" font-size="11.6" text-anchor="end">15</text>
<text x="36.4" y="675.6" font-size="11.6" text-anchor="end">20</text>
<text x="36.4" y="642.1" font-size="11.6" text-anchor="end">25</text>
<text x="36.4" y="608.6" font-size="11.6" text-anchor="end">30</text>
<text x="58.4" y="787.5" font-size="11.6" text-anchor="middle">Jan</text>
<text x="89.7" y="787.5" font-size="11.6" text-anchor="middle">Feb</text>
<text x="121.1" y="787.5" font-size="11.6" text-anchor="middle">Mar</text>
<text x="152.4" y="787.5" font-size="11.6" text-anchor="middle">Apr</text>
<text x="183.8" y="787.5" font-size="11.6" text-anchor="middle">May</text>
<text x="215.1" y="787.5" font-size="11.6" text-anchor="middle">Jun</text>
<text x="246.5" y="787.5" font-size="11.6" text-anchor="middle">Jul</text>
<text x="277.8" y="787.5" font-size="11.6" text-anchor="middle">Aug</text>
<text x="309.2" y="787.5" font-size="11.6" text-anchor="middle">Sep</text>
<text x="340.5" y="787.5" font-size="11.6" text-anchor="middle">Oct</text>
<text x="371.9" y="787.5" font-size="11.6" text-anchor="middle">Nov</text>
<text x="403.2" y="787.5" font-size="11.6" text-anchor="middle">Dec</text>
<path d="M42.7 738.7h4.8M42.7 705.2h4.8M42.7 671.7h4.8M42.7 638.2h4.8M42.7 604.7h4.8M42.7 755.5h2.8M42.7 722h2.8M42.7 688.5h2.8M42.7 655h2.8M42.7 621.5h2.8M58.4 767.6V772.2M89.7 767.6V772.2M121.1 767.6V772.2M152.4 767.6V772.2M183.8 767.6V772.2M215.1 767.6V772.2M246.5 767.6V772.2M277.8 767.6V772.2M309.2 767.6V772.2M340.5 767.6V772.2M371.9 767.6V772.2M403.2 767.6V772.2" stroke="#333333" stroke-width="1.1" fill="none"/>
<text x="56.3" y="608.1" font-size="14.3">DSN (23.8°N)</text>
<text transform="translate(17.8,742.2) rotate(-90)" font-size="15.2" text-anchor="middle">Fujian ration culture</text>
<rect x="426.8" y="616.1" width="20" height="36.4" fill="#dc3420"/>
<text x="450.3" y="640.5" font-size="13">20°C</text>
<path d="M487.2 632.6L478.4 636.2L487.2 639.8" stroke="#333" stroke-width="0.7" fill="none"/>
<text x="489.6" y="640.5" font-size="13">Tem</text>
<rect x="426.8" y="665.8" width="20" height="36.3" fill="#7a7430"/>
<text x="449.0" y="688.3" font-size="13">10°C</text>
<path d="M485.8 680.4L477 684L485.8 687.6" stroke="#333" stroke-width="0.7" fill="none"/>
<text x="488.2" y="688.3" font-size="13">Tem≤20°C</text>
<rect x="427" y="789.9" width="13.8" height="13.8" fill="#0c4f1c"/>
<text x="443" y="801.2" font-size="13.2" font-style="italic" fill="#262626">S. japonica</text>
<rect x="427" y="808.2" width="13.8" height="13.8" fill="#cf8f47"/>
<text x="443" y="819.5" font-size="13.2" font-style="italic" fill="#262626">H.fusiformis</text>
<rect x="427" y="826.0" width="13.8" height="13.8" fill="#9b1f0e"/>
<text x="443" y="837.3" font-size="13.2" font-style="italic" fill="#262626">G.lemaneiformis</text>
<rect x="427" y="843.8" width="13.8" height="13.8" fill="#a09a16"/>
<text x="443" y="855.1" font-size="13.2" font-style="italic" fill="#262626">E.denticulatum</text>
</svg>
</body></html>
